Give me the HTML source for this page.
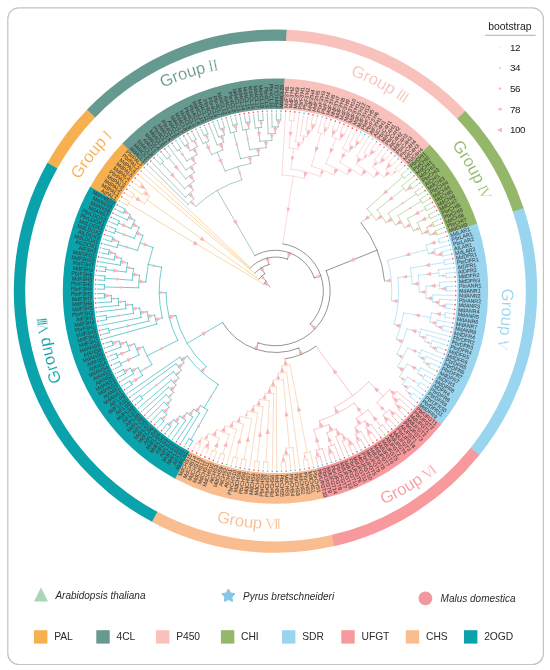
<!DOCTYPE html>
<html lang="en"><head><meta charset="utf-8"><title>Phylogenetic tree</title>
<style>html,body{margin:0;padding:0;background:#fff}svg{display:block}</style>
</head><body>
<svg width="550" height="670" viewBox="0 0 550 670">
<rect x="0" y="0" width="550" height="670" fill="#fff"/>
<rect x="7.8" y="7.9" width="535.6" height="656.6" rx="11" ry="11" fill="#fff" stroke="#c3c3c3" stroke-width="1.2"/>
<path d="M47.17 163.23A261.7 261.7 0 0 1 87.39 109.16L95.58 117.09A250.3 250.3 0 0 0 57.11 168.8Z" fill="#f7b050"/>
<path d="M89.92 187.17A212.7 212.7 0 0 1 122.61 143.23L144.68 164.57A182 182 0 0 0 116.71 202.17Z" fill="#f7b050"/>
<path d="M87.07 109.49A261.7 261.7 0 0 1 287.07 29.66L286.56 41.04A250.3 250.3 0 0 0 95.28 117.4Z" fill="#66998f"/>
<path d="M122.35 143.5A212.7 212.7 0 0 1 284.9 78.61L283.55 109.28A182 182 0 0 0 144.46 164.8Z" fill="#66998f"/>
<path d="M286.61 29.64A261.7 261.7 0 0 1 465.69 111.34L457.41 119.17A250.3 250.3 0 0 0 286.13 41.03Z" fill="#f8c1bb"/>
<path d="M284.53 78.59A212.7 212.7 0 0 1 430.08 145L407.77 166.09A182 182 0 0 0 283.23 109.26Z" fill="#f8c1bb"/>
<path d="M465.38 111.01A261.7 261.7 0 0 1 523.81 208.47L513 212.07A250.3 250.3 0 0 0 457.11 118.85Z" fill="#95b769"/>
<path d="M429.83 144.73A212.7 212.7 0 0 1 477.32 223.94L448.19 233.64A182 182 0 0 0 407.55 165.85Z" fill="#95b769"/>
<path d="M523.67 208.04A261.7 261.7 0 0 1 479.16 455.44L470.29 448.28A250.3 250.3 0 0 0 512.86 211.66Z" fill="#99d5ef"/>
<path d="M477.2 223.59A212.7 212.7 0 0 1 441.03 424.67L417.14 405.39A182 182 0 0 0 448.09 233.34Z" fill="#99d5ef"/>
<path d="M479.45 455.09A261.7 261.7 0 0 1 333.9 546.2L331.36 535.09A250.3 250.3 0 0 0 470.57 447.94Z" fill="#f8999e"/>
<path d="M441.26 424.38A212.7 212.7 0 0 1 322.97 498.44L316.12 468.51A182 182 0 0 0 417.34 405.14Z" fill="#f8999e"/>
<path d="M334.35 546.1A261.7 261.7 0 0 1 151.64 521.63L157.04 511.59A250.3 250.3 0 0 0 331.78 534.99Z" fill="#f9bd8f"/>
<path d="M323.33 498.35A212.7 212.7 0 0 1 174.83 478.47L189.36 451.43A182 182 0 0 0 316.43 468.44Z" fill="#f9bd8f"/>
<path d="M152.04 521.85A261.7 261.7 0 0 1 47.39 162.83L57.33 168.42A250.3 250.3 0 0 0 157.42 511.8Z" fill="#0ba3ab"/>
<path d="M175.16 478.64A212.7 212.7 0 0 1 90.1 186.85L116.86 201.89A182 182 0 0 0 189.64 451.58Z" fill="#0ba3ab"/>
<defs>
<path id="gpI" d="M51.1 304.43A224.8 224.8 0 0 1 223.4 72.42"/>
<path id="gpII" d="M72.64 181.87A230.4 230.4 0 0 1 347.84 72.35"/>
<path id="gpIII" d="M222.66 69.31A228 228 0 0 1 484.75 200.55"/>
<path id="gpIV" d="M346.49 75.17A227.3 227.3 0 0 1 500.48 323.52"/>
<path id="gpV" d="M466.3 167.19A227.5 227.5 0 0 1 430.65 457.48"/>
<path id="gpVI" d="M251.37 530.69A240.8 240.8 0 0 0 507.26 356.46"/>
<path id="gpVII" d="M102.01 454.02A238 238 0 0 0 405.82 490.25"/>
<path id="gpVIII" d="M143 480.32A231 231 0 0 1 66.14 193.48"/>
</defs>
<g font-family="'Liberation Sans', Arial, sans-serif" font-size="16.6" text-anchor="middle" stroke="#fff" stroke-width="0.12">
<text fill="#f7b050" transform="rotate(1.5 90.21 153.49)"><textPath href="#gpI" startOffset="50%">Group <tspan font-family="'Liberation Serif', serif" font-size="16.6" letter-spacing="0" dx="-1.4" stroke-width="0.35">I</tspan></textPath></text>
<text fill="#66998f" transform="rotate(4 188.09 71.45)"><textPath href="#gpII" startOffset="50%">Group <tspan font-family="'Liberation Serif', serif" font-size="16.6" letter-spacing="-1" dx="-1.4" stroke-width="0.35">II</tspan></textPath></text>
<text fill="#f8c1bb" transform="rotate(1 380.28 81.87)"><textPath href="#gpIII" startOffset="50%">Group <tspan font-family="'Liberation Serif', serif" font-size="16.6" letter-spacing="-2.1" dx="-1.4" stroke-width="0.35">III</tspan></textPath></text>
<text fill="#95b769" transform="rotate(2.5 473.78 168.16)"><textPath href="#gpIV" startOffset="50%">Group <tspan font-family="'Liberation Serif', serif" font-size="15.6" letter-spacing="-2.2" dx="-1.4" stroke-width="0.35">IV</tspan></textPath></text>
<text fill="#99d5ef" transform="rotate(-2.5 507.26 319.56)"><textPath href="#gpV" startOffset="50%">Group <tspan font-family="'Liberation Serif', serif" font-size="15.6" letter-spacing="0" dx="-1.4" stroke-width="0.35">V</tspan></textPath></text>
<text fill="#f8999e" transform="rotate(3.5 407.65 485.18)"><textPath href="#gpVI" startOffset="50%">Group <tspan font-family="'Liberation Serif', serif" font-size="15.6" letter-spacing="-2.2" dx="-1.4" stroke-width="0.35">VI</tspan></textPath></text>
<text fill="#f9bd8f" transform="rotate(0 248.03 521.47)"><textPath href="#gpVII" startOffset="50%">Group <tspan font-family="'Liberation Serif', serif" font-size="15.6" letter-spacing="-2.6" dx="-1.4" stroke-width="0.35">VII</tspan></textPath></text>
<text fill="#0ba3ab" transform="rotate(1.5 46.58 352.44)"><textPath href="#gpVIII" startOffset="50%">Group <tspan font-family="'Liberation Serif', serif" font-size="15.6" letter-spacing="-3.3" dx="-1.4" stroke-width="0.35">VIII</tspan></textPath></text>
</g>
<g fill="none" stroke-width="0.65" stroke-linecap="square">
<path stroke="#5a5a5a" d="M270.04 286.72L264.9 282.58M263.81 284.14A13.6 13.6 0 0 1 266.19 281.19M266.19 281.19L261.5 276.19M258.82 279.26A20.45 20.45 0 0 1 264.73 273.71M264.73 273.71L261.12 267.89M254.69 273.44A27.3 27.3 0 0 1 268.96 264.6M268.96 264.6L267.32 257.95M250.04 268.34A34.15 34.15 0 0 1 287.45 259.11M287.45 259.11L289.84 252.69M254.94 255.63A41 41 0 0 1 314.28 277.78M314.28 277.78L320.75 275.55M282.78 243.81A47.85 47.85 0 0 1 310.3 323.94M310.3 323.94L315.29 328.64M326.23 270.65A54.7 54.7 0 0 1 258.03 342.93M326.23 270.65L377.06 250.16M361.09 222.8A109.5 109.5 0 0 1 384.53 280.95M258.03 342.93L255.84 349.43M298.7 348.11A61.55 61.55 0 0 1 222.52 322.44M298.7 348.11L301.28 354.46M316.02 346.21A68.4 68.4 0 0 1 284.96 358.84"/>
<path stroke="#f8c577" d="M263.81 284.14L128.44 203.54M127.33 205.44A171.15 171.15 0 0 1 129.58 201.66M127.33 205.44L121.4 202.01M129.58 201.66L123.74 198.08M258.82 279.26L147.1 199.98M144.52 203.72A157.45 157.45 0 0 1 149.78 196.31M144.52 203.72L133.12 196.12M131.92 197.95A171.15 171.15 0 0 1 134.35 194.3M131.92 197.95L126.17 194.22M134.35 194.3L128.71 190.43M149.78 196.31L144.31 192.19M142.43 194.73A164.3 164.3 0 0 1 146.24 189.68M142.43 194.73L131.33 186.69M146.24 189.68L140.85 185.46M139.5 187.19A171.15 171.15 0 0 1 142.21 183.74M139.5 187.19L134.06 183.03M142.21 183.74L136.88 179.44M254.69 273.44L139.79 175.92M250.04 268.34L142.78 172.48M250.63 267.7L145.87 169.12"/>
<path stroke="#7cafa5" d="M254.94 255.63L217.17 190.43M195.64 206.48A116.35 116.35 0 0 1 241.8 179.74M195.64 206.48L190.94 201.5M187.97 204.4A123.2 123.2 0 0 1 194 198.71M187.97 204.4L149.04 165.83M194 198.71L189.47 193.57M185.48 197.24A130.05 130.05 0 0 1 193.61 190.07M185.48 197.24L152.29 162.63M193.61 190.07L189.3 184.75M184.61 188.72A136.9 136.9 0 0 1 194.16 180.99M184.61 188.72L161.87 163.11M160.24 164.58A171.15 171.15 0 0 1 163.52 161.66M160.24 164.58L155.63 159.51M163.52 161.66L159.04 156.48M194.16 180.99L190.08 175.48M185.7 178.85A143.75 143.75 0 0 1 194.59 172.28M185.7 178.85L168.58 157.45M166.88 158.84A171.15 171.15 0 0 1 170.31 156.09M166.88 158.84L162.53 153.54M170.31 156.09L166.1 150.69M194.59 172.28L190.74 166.62M186.01 169.97A150.6 150.6 0 0 1 195.59 163.45M186.01 169.97L169.73 147.93M195.59 163.45L191.95 157.64M186.88 160.96A157.45 157.45 0 0 1 197.15 154.53M186.88 160.96L179.17 149.63M177.37 150.88A171.15 171.15 0 0 1 181 148.41M177.37 150.88L173.44 145.27M181 148.41L177.21 142.7M197.15 154.53L193.74 148.59M190.11 150.73A164.3 164.3 0 0 1 197.42 146.54M190.11 150.73L186.55 144.88M184.69 146.03A171.15 171.15 0 0 1 188.44 143.75M184.69 146.03L181.05 140.22M188.44 143.75L184.95 137.85M197.42 146.54L194.17 140.51M192.24 141.57A171.15 171.15 0 0 1 196.1 139.48M192.24 141.57L188.91 135.58M196.1 139.48L192.93 133.41M241.8 179.74L237.83 166.62M225.16 171.19A130.05 130.05 0 0 1 250.9 163.4M225.16 171.19L217.21 152.24M211.69 154.68A150.6 150.6 0 0 1 222.82 150.01M211.69 154.68L205.89 142.28M203.04 143.64A164.3 164.3 0 0 1 208.76 140.96M203.04 143.64L197 131.35M208.76 140.96L205.98 134.7M203.98 135.61A171.15 171.15 0 0 1 207.99 133.83M203.98 135.61L201.12 129.39M207.99 133.83L205.29 127.53M222.82 150.01L220.42 143.6M217.13 144.87A157.45 157.45 0 0 1 223.75 142.4M217.13 144.87L209.51 125.78M223.75 142.4L221.49 135.93M218.52 137A164.3 164.3 0 0 1 224.49 134.92M218.52 137L213.77 124.15M224.49 134.92L222.36 128.41M220.28 129.1A171.15 171.15 0 0 1 224.45 127.74M220.28 129.1L218.07 122.62M224.45 127.74L222.41 121.2M250.9 163.4L249.61 156.67M240.57 158.73A136.9 136.9 0 0 1 258.77 155.23M240.57 158.73L233.58 132.24M230.53 133.07A164.3 164.3 0 0 1 236.64 131.46M230.53 133.07L226.78 119.9M236.64 131.46L235.02 124.8M232.9 125.34A171.15 171.15 0 0 1 237.16 124.3M232.9 125.34L231.19 118.7M237.16 124.3L235.63 117.62M258.77 155.23L257.93 148.43M249.62 149.7A143.75 143.75 0 0 1 266.3 147.64M249.62 149.7L245.92 129.49M242.81 130.08A164.3 164.3 0 0 1 249.03 128.95M242.81 130.08L240.09 116.66M249.03 128.95L247.93 122.19M245.76 122.55A171.15 171.15 0 0 1 250.09 121.85M245.76 122.55L244.57 115.81M250.09 121.85L249.08 115.07M266.3 147.64L265.86 140.81M259.85 141.32A150.6 150.6 0 0 1 271.89 140.54M259.85 141.32L258.42 127.69M255.29 128.05A164.3 164.3 0 0 1 261.57 127.39M255.29 128.05L253.6 114.45M261.57 127.39L260.99 120.57M258.8 120.77A171.15 171.15 0 0 1 263.18 120.39M258.8 120.77L258.14 113.95M263.18 120.39L262.68 113.56M271.89 140.54L271.73 133.7M268.2 133.82A157.45 157.45 0 0 1 275.26 133.65M268.2 133.82L267.24 113.29M275.26 133.65L275.25 126.8M272.09 126.84A164.3 164.3 0 0 1 278.41 126.83M272.09 126.84L271.8 113.14M278.41 126.83L278.53 119.98M276.34 119.95A171.15 171.15 0 0 1 280.72 120.03M276.34 119.95L276.37 113.1M280.72 120.03L280.93 113.18"/>
<path stroke="#f9c7c2" d="M282.78 243.81L293.19 176.1M282.03 174.93A116.35 116.35 0 0 1 304.19 178.34M282.03 174.93L285.49 113.38M304.19 178.34L305.87 171.7M290.97 168.88A123.2 123.2 0 0 1 320.32 176.34M290.97 168.88L293.55 148.49M289.08 147.99A143.75 143.75 0 0 1 298 149.12M289.08 147.99L291.67 120.72M289.49 120.52A171.15 171.15 0 0 1 293.86 120.94M289.49 120.52L290.05 113.7M293.86 120.94L294.59 114.13M298 149.12L299.07 142.36M295.49 141.83A150.6 150.6 0 0 1 302.64 142.97M295.49 141.83L299.12 114.67M302.64 142.97L303.87 136.23M300.39 135.63A157.45 157.45 0 0 1 307.34 136.9M300.39 135.63L303.64 115.34M307.34 136.9L308.73 130.19M305.63 129.59A164.3 164.3 0 0 1 311.81 130.86M305.63 129.59L308.14 116.12M311.81 130.86L313.33 124.18M311.19 123.71A171.15 171.15 0 0 1 315.47 124.68M311.19 123.71L312.61 117.01M315.47 124.68L317.07 118.02M320.32 176.34L322.81 169.96M311.51 166.14A130.05 130.05 0 0 1 333.71 174.81M311.51 166.14L321 133.22M317.95 132.38A164.3 164.3 0 0 1 324.02 134.13M317.95 132.38L321.49 119.14M324.02 134.13L326.05 127.58M323.95 126.95A171.15 171.15 0 0 1 328.14 128.25M323.95 126.95L325.88 120.38M328.14 128.25L330.25 121.73M333.71 174.81L336.78 168.68M325.86 163.8A136.9 136.9 0 0 1 347.23 174.49M325.86 163.8L335.94 138.32M332.01 136.82A164.3 164.3 0 0 1 339.84 139.92M332.01 136.82L334.36 130.39M332.3 129.65A171.15 171.15 0 0 1 336.42 131.16M332.3 129.65L334.57 123.19M336.42 131.16L338.86 124.76M339.84 139.92L342.53 133.62M340.5 132.77A171.15 171.15 0 0 1 344.54 134.49M340.5 132.77L343.1 126.44M344.54 134.49L347.3 128.22M347.23 174.49L350.81 168.66M339.74 162.5A143.75 143.75 0 0 1 361.3 175.77M339.74 162.5L345.86 150.25M342.69 148.7A157.45 157.45 0 0 1 349.01 151.86M342.69 148.7L351.46 130.12M349.01 151.86L352.2 145.8M349.4 144.36A164.3 164.3 0 0 1 354.99 147.31M349.4 144.36L355.56 132.12M354.99 147.31L358.3 141.31M356.37 140.26A171.15 171.15 0 0 1 360.21 142.39M356.37 140.26L359.61 134.22M360.21 142.39L363.6 136.43M361.3 175.77L365.39 170.27M356.25 163.98A150.6 150.6 0 0 1 374.05 177.22M356.25 163.98L359.92 158.19M356.91 156.33A157.45 157.45 0 0 1 362.88 160.12M356.91 156.33L367.54 138.74M362.88 160.12L366.68 154.42M364.03 152.69A164.3 164.3 0 0 1 369.29 156.2M364.03 152.69L371.42 141.15M369.29 156.2L373.2 150.58M371.39 149.34A171.15 171.15 0 0 1 375 151.84M371.39 149.34L375.23 143.66M375 151.84L378.98 146.27M374.05 177.22L378.53 172.04M372.69 167.22A157.45 157.45 0 0 1 384.13 177.13M372.69 167.22L376.92 161.84M374.41 159.91A164.3 164.3 0 0 1 379.38 163.81M374.41 159.91L382.66 148.97M379.38 163.81L383.71 158.5M382.01 157.13A171.15 171.15 0 0 1 385.41 159.9M382.01 157.13L386.27 151.76M385.41 159.9L389.8 154.65M384.13 177.13L388.86 172.17M385.77 169.3A164.3 164.3 0 0 1 391.87 175.12M385.77 169.3L390.37 164.23M388.73 162.76A171.15 171.15 0 0 1 391.99 165.71M388.73 162.76L393.27 157.63M391.99 165.71L396.65 160.69M391.87 175.12L396.72 170.28M395.16 168.74A171.15 171.15 0 0 1 398.26 171.85M395.16 168.74L399.95 163.84M398.26 171.85L403.18 167.07"/>
<path stroke="#a6c783" d="M361.09 222.8L371.8 214.25M367.11 208.72A123.2 123.2 0 0 1 376.15 220.06M367.11 208.72L402.76 176.66M401.28 175.03A171.15 171.15 0 0 1 404.22 178.3M401.28 175.03L406.31 170.39M404.22 178.3L409.37 173.78M376.15 220.06L381.75 216.11M377.05 209.86A130.05 130.05 0 0 1 386.06 222.62M377.05 209.86L403.8 188.46M401.8 186.02A164.3 164.3 0 0 1 405.75 190.95M401.8 186.02L412.33 177.25M405.75 190.95L411.18 186.78M409.83 185.04A171.15 171.15 0 0 1 412.5 188.52M409.83 185.04L415.21 180.8M412.5 188.52L417.99 184.42M386.06 222.62L391.89 219.02M388.16 213.33A136.9 136.9 0 0 1 395.32 224.89M388.16 213.33L416.35 193.87M415.09 192.07A171.15 171.15 0 0 1 417.58 195.68M415.09 192.07L420.68 188.11M417.58 195.68L423.27 191.86M395.32 224.89L401.32 221.57M397.83 215.61A143.75 143.75 0 0 1 404.51 227.7M397.83 215.61L421.15 201.22M419.98 199.36A171.15 171.15 0 0 1 422.29 203.09M419.98 199.36L425.77 195.69M422.29 203.09L428.16 199.57M404.51 227.7L410.66 224.68M407.55 218.68A150.6 150.6 0 0 1 413.51 230.81M407.55 218.68L425.56 208.8M424.5 206.89A171.15 171.15 0 0 1 426.61 210.73M424.5 206.89L430.46 203.51M426.61 210.73L432.66 207.52M413.51 230.81L419.78 228.07M417.25 222.57A157.45 157.45 0 0 1 422.1 233.67M417.25 222.57L429.59 216.6M428.62 214.64A171.15 171.15 0 0 1 430.53 218.59M428.62 214.64L434.75 211.57M430.53 218.59L436.73 215.68M422.1 233.67L428.48 231.17M426.89 227.26A164.3 164.3 0 0 1 429.97 235.11M426.89 227.26L433.2 224.6M432.34 222.59A171.15 171.15 0 0 1 434.04 226.63M432.34 222.59L438.62 219.84M434.04 226.63L440.39 224.05M429.97 235.11L436.41 232.78M435.64 230.72A171.15 171.15 0 0 1 437.14 234.84M435.64 230.72L442.05 228.3M437.14 234.84L443.61 232.59"/>
<path stroke="#9fd8f0" d="M384.53 280.95L391.35 280.31M387.71 260.33A116.35 116.35 0 0 1 391.46 300.62M387.71 260.33L427.35 249.47M426.08 245.1A157.45 157.45 0 0 1 428.48 253.86M426.08 245.1L439.18 241.1M438.53 239.01A171.15 171.15 0 0 1 439.81 243.2M438.53 239.01L445.05 236.92M439.81 243.2L446.39 241.29M428.48 253.86L435.14 252.24M434.36 249.18A164.3 164.3 0 0 1 435.86 255.32M434.36 249.18L447.61 245.69M435.86 255.32L442.54 253.83M442.05 251.69A171.15 171.15 0 0 1 443.01 255.98M442.05 251.69L448.72 250.11M443.01 255.98L449.71 254.57M391.46 300.62L398.29 301.18M397.95 277.56A123.2 123.2 0 0 1 394.11 324.43M397.95 277.56L411.57 276.05M410.47 268.18A136.9 136.9 0 0 1 412.21 283.98M410.47 268.18L444.23 262.44M443.85 260.28A171.15 171.15 0 0 1 444.59 264.61M443.85 260.28L450.59 259.05M444.59 264.61L451.35 263.55M412.21 283.98L419.06 283.63M418.37 275.24A143.75 143.75 0 0 1 419.25 292.03M418.37 275.24L438.8 272.98M438.42 269.84A164.3 164.3 0 0 1 439.12 276.12M438.42 269.84L452 268.07M439.12 276.12L445.94 275.5M445.72 273.31A171.15 171.15 0 0 1 446.12 277.68M445.72 273.31L452.54 272.6M446.12 277.68L452.95 277.15M419.25 292.03L426.1 292.08M426.02 286.04A150.6 150.6 0 0 1 425.94 298.11M426.02 286.04L439.71 285.58M439.57 282.43A164.3 164.3 0 0 1 439.78 288.74M439.57 282.43L453.25 281.7M439.78 288.74L446.63 288.64M446.59 286.45A171.15 171.15 0 0 1 446.65 290.84M446.59 286.45L453.43 286.26M446.65 290.84L453.5 290.83M425.94 298.11L432.78 298.43M432.9 294.9A157.45 157.45 0 0 1 432.58 301.95M432.9 294.9L453.45 295.39M432.58 301.95L439.41 302.43M439.6 299.27A164.3 164.3 0 0 1 439.16 305.58M439.6 299.27L453.28 299.95M439.16 305.58L445.98 306.18M446.16 303.99A171.15 171.15 0 0 1 445.78 308.37M446.16 303.99L452.99 304.51M445.78 308.37L452.59 309.06M394.11 324.43L400.7 326.28M403.71 312.89A130.05 130.05 0 0 1 396.29 339.28M403.71 312.89L430.72 317.48M431.42 313A157.45 157.45 0 0 1 429.9 321.95M431.42 313L444.99 314.9M445.28 312.73A171.15 171.15 0 0 1 444.67 317.07M445.28 312.73L452.07 313.59M444.67 317.07L451.44 318.11M429.9 321.95L436.61 323.29M437.2 320.19A164.3 164.3 0 0 1 435.97 326.39M437.2 320.19L450.69 322.61M435.97 326.39L442.66 327.86M443.11 325.71A171.15 171.15 0 0 1 442.17 330M443.11 325.71L449.82 327.1M442.17 330L448.84 331.56M396.29 339.28L402.66 341.82M407.11 328.8A136.9 136.9 0 0 1 396.92 354.33M407.11 328.8L420.28 332.57M421.23 329.08A150.6 150.6 0 0 1 419.24 336.04M421.23 329.08L447.75 335.99M419.24 336.04L425.78 338.08M426.79 334.7A157.45 157.45 0 0 1 424.68 341.44M426.79 334.7L446.54 340.39M424.68 341.44L431.18 343.63M432.16 340.63A164.3 164.3 0 0 1 430.14 346.62M432.16 340.63L445.22 344.76M430.14 346.62L436.58 348.93M437.31 346.86A171.15 171.15 0 0 1 435.83 350.99M437.31 346.86L443.79 349.09M435.83 350.99L442.25 353.39M396.92 354.33L403 357.5M407.59 347.82A143.75 143.75 0 0 1 397.7 366.81M407.59 347.82L420.18 353.22M421.53 349.96A157.45 157.45 0 0 1 418.75 356.45M421.53 349.96L440.59 357.64M418.75 356.45L424.98 359.3M426.26 356.41A164.3 164.3 0 0 1 423.64 362.16M426.26 356.41L438.83 361.86M423.64 362.16L429.81 365.12M430.75 363.14A171.15 171.15 0 0 1 428.85 367.1M430.75 363.14L436.96 366.02M428.85 367.1L434.99 370.14M397.7 366.81L403.52 370.41M407.3 363.96A150.6 150.6 0 0 1 399.42 376.67M407.3 363.96L419.29 370.59M420.8 367.8A164.3 164.3 0 0 1 417.74 373.34M420.8 367.8L432.91 374.2M417.74 373.34L423.67 376.76M424.75 374.86A171.15 171.15 0 0 1 422.56 378.66M424.75 374.86L430.73 378.21M422.56 378.66L428.44 382.16M399.42 376.67L405.06 380.57M407.59 376.79A157.45 157.45 0 0 1 402.43 384.27M407.59 376.79L419.08 384.25M420.26 382.4A171.15 171.15 0 0 1 417.88 386.08M420.26 382.4L426.06 386.05M417.88 386.08L423.57 389.88M402.43 384.27L407.95 388.32M409.79 385.76A164.3 164.3 0 0 1 406.05 390.85M409.79 385.76L420.99 393.65M406.05 390.85L411.5 395.01M412.82 393.26A171.15 171.15 0 0 1 410.15 396.74M412.82 393.26L418.31 397.35M410.15 396.74L415.54 400.97"/>
<path stroke="#f8a7a9" d="M316.02 346.21L352.54 395.87M368.62 381.88A130.05 130.05 0 0 1 334.39 407.05M368.62 381.88L383.34 396.22M389.38 389.65A150.6 150.6 0 0 1 376.92 402.43M389.38 389.65L394.56 394.13M396.84 391.43A157.45 157.45 0 0 1 392.22 396.78M396.84 391.43L412.68 404.53M392.22 396.78L397.3 401.37M399.4 399.01A164.3 164.3 0 0 1 395.15 403.69M399.4 399.01L409.73 408.01M395.15 403.69L400.14 408.39M401.64 406.78A171.15 171.15 0 0 1 398.63 409.98M401.64 406.78L406.68 411.41M398.63 409.98L403.56 414.74M376.92 402.43L386.15 412.56M389.22 409.68A164.3 164.3 0 0 1 382.99 415.36M389.22 409.68L393.96 414.63M395.54 413.1A171.15 171.15 0 0 1 392.37 416.13M395.54 413.1L400.34 417.98M392.37 416.13L397.05 421.14M382.99 415.36L387.48 420.54M389.13 419.09A171.15 171.15 0 0 1 385.81 421.96M389.13 419.09L393.67 424.21M385.81 421.96L390.22 427.2M334.39 407.05L337.5 413.16M354.35 403.01A136.9 136.9 0 0 1 319.36 420.78M354.35 403.01L362.24 414.21M368.06 409.9A150.6 150.6 0 0 1 356.23 418.24M368.06 409.9L380.69 426.11M382.42 424.75A171.15 171.15 0 0 1 378.95 427.44M382.42 424.75L386.69 430.1M378.95 427.44L383.09 432.9M356.23 418.24L359.9 424.02M364.95 420.67A157.45 157.45 0 0 1 354.72 427.17M364.95 420.67L368.84 426.31M371.42 424.49A164.3 164.3 0 0 1 366.22 428.08M371.42 424.49L379.42 435.61M366.22 428.08L370 433.79M371.83 432.57A171.15 171.15 0 0 1 368.17 434.99M371.83 432.57L375.68 438.23M368.17 434.99L371.88 440.75M354.72 427.17L358.17 433.09M360.89 431.47A164.3 164.3 0 0 1 355.43 434.65M360.89 431.47L368.01 443.17M355.43 434.65L358.76 440.63M360.67 439.55A171.15 171.15 0 0 1 356.83 441.69M360.67 439.55L364.08 445.5M356.83 441.69L360.09 447.72M319.36 420.78L321.55 427.27M329.01 424.52A143.75 143.75 0 0 1 313.95 429.61M329.01 424.52L331.56 430.88M336.23 428.91A150.6 150.6 0 0 1 326.82 432.69M336.23 428.91L338.99 435.18M342.21 433.72A157.45 157.45 0 0 1 335.74 436.57M342.21 433.72L345.11 439.92M347.96 438.56A164.3 164.3 0 0 1 342.24 441.24M347.96 438.56L350.98 444.71M352.95 443.73A171.15 171.15 0 0 1 349.01 445.66M352.95 443.73L356.04 449.83M349.01 445.66L351.95 451.85M342.24 441.24L347.8 453.75M335.74 436.57L343.61 455.56M326.82 432.69L331.49 445.57M334.45 444.46A164.3 164.3 0 0 1 328.51 446.61M334.45 444.46L339.37 457.25M328.51 446.61L330.72 453.1M332.79 452.38A171.15 171.15 0 0 1 328.64 453.79M332.79 452.38L335.08 458.83M328.64 453.79L330.76 460.3M313.95 429.61L319.45 449.41M322.49 448.54A164.3 164.3 0 0 1 316.4 450.23M322.49 448.54L326.41 461.67M316.4 450.23L318.1 456.86M320.23 456.3A171.15 171.15 0 0 1 315.98 457.4M320.23 456.3L322.02 462.91M315.98 457.4L317.6 464.05"/>
<path stroke="#f9c8a0" d="M284.96 358.84L285.91 365.63M290 364.94A75.25 75.25 0 0 1 281.79 366.09M290 364.94L307.15 452.32M310.25 451.68A164.3 164.3 0 0 1 304.05 452.9M310.25 451.68L313.15 465.07M304.05 452.9L305.24 459.65M307.4 459.25A171.15 171.15 0 0 1 303.07 460.01M307.4 459.25L308.67 465.98M303.07 460.01L304.18 466.77M281.79 366.09L282.36 372.91M286.65 372.44A82.1 82.1 0 0 1 278.05 373.16M286.65 372.44L299.66 467.45M278.05 373.16L278.26 380.01M283.33 379.71A88.95 88.95 0 0 1 273.19 380.02M283.33 379.71L289.35 447.94M292.87 447.59A157.45 157.45 0 0 1 285.83 448.21M292.87 447.59L295.13 468.01M285.83 448.21L286.28 455.05M289.43 454.81A164.3 164.3 0 0 1 283.12 455.22M289.43 454.81L290.59 468.46M283.12 455.22L283.44 462.07M285.63 461.95A171.15 171.15 0 0 1 281.25 462.15M285.63 461.95L286.04 468.79M281.25 462.15L281.48 469M273.19 380.02L273.02 386.87M276.26 386.9A95.8 95.8 0 0 1 269.77 386.73M276.26 386.9L276.91 469.09M269.77 386.73L269.36 393.57M273.68 393.73A102.65 102.65 0 0 1 265.05 393.22M273.68 393.73L272.35 469.07M265.05 393.22L264.36 400.03M269.35 400.43A109.5 109.5 0 0 1 259.38 399.41M269.35 400.43L265.89 461.98M268.08 462.09A171.15 171.15 0 0 1 263.7 461.84M268.08 462.09L267.79 468.93M263.7 461.84L263.23 468.68M259.38 399.41L258.37 406.18M263.02 406.78A116.35 116.35 0 0 1 253.75 405.4M263.02 406.78L257.14 461.26M259.33 461.48A171.15 171.15 0 0 1 254.96 461.01M259.33 461.48L258.68 468.3M254.96 461.01L254.14 467.81M253.75 405.4L252.47 412.13M257.59 412.99A123.2 123.2 0 0 1 247.4 411.05M257.59 412.99L249.62 467.21M247.4 411.05L245.84 417.72M251.65 418.95A130.05 130.05 0 0 1 240.09 416.24M251.65 418.95L244.12 459.35M246.28 459.74A171.15 171.15 0 0 1 241.96 458.93M246.28 459.74L245.11 466.49M241.96 458.93L240.62 465.65M240.09 416.24L238.22 422.83M243.53 424.22A136.9 136.9 0 0 1 232.98 421.23M243.53 424.22L235.53 457.52M237.67 458.02A171.15 171.15 0 0 1 233.4 456.99M237.67 458.02L236.16 464.7M233.4 456.99L231.72 463.63M232.98 421.23L230.85 427.74M236.58 429.48A143.75 143.75 0 0 1 225.2 425.76M236.58 429.48L227.31 462.45M225.2 425.76L222.8 432.18M229.18 434.4A150.6 150.6 0 0 1 216.52 429.67M229.18 434.4L222.86 453.95M224.95 454.62A171.15 171.15 0 0 1 220.78 453.27M224.95 454.62L222.93 461.16M220.78 453.27L218.59 459.76M216.52 429.67L213.84 435.97M219.46 438.24A157.45 157.45 0 0 1 208.31 433.5M219.46 438.24L214.58 451.04M216.64 451.81A171.15 171.15 0 0 1 212.54 450.25M216.64 451.81L214.28 458.24M212.54 450.25L210.02 456.62M208.31 433.5L205.39 439.69M209.22 441.44A164.3 164.3 0 0 1 201.6 437.84M209.22 441.44L206.46 447.71M208.47 448.58A171.15 171.15 0 0 1 204.46 446.81M208.47 448.58L205.79 454.88M204.46 446.81L201.62 453.04M201.6 437.84L198.52 443.96M200.49 444.94A171.15 171.15 0 0 1 196.57 442.96M200.49 444.94L197.49 451.09M196.57 442.96L193.41 449.04"/>
<path stroke="#23b2bb" d="M222.52 322.44L187.15 343.36M206.07 366.71A102.65 102.65 0 0 1 175.8 315.53M206.07 366.71L201.44 371.75M218.32 384.48A109.5 109.5 0 0 1 187.32 356.02M218.32 384.48L204.01 407.85M207.74 410.05A136.9 136.9 0 0 1 200.35 405.53M207.74 410.05L190.79 439.81M192.7 440.89A171.15 171.15 0 0 1 188.89 438.72M192.7 440.89L189.39 446.88M188.89 438.72L185.42 444.62M200.35 405.53L196.59 411.25M199.6 413.18A143.75 143.75 0 0 1 193.63 409.26M199.6 413.18L181.51 442.26M193.63 409.26L189.73 414.89M192.73 416.91A150.6 150.6 0 0 1 186.78 412.79M192.73 416.91L177.67 439.8M186.78 412.79L182.74 418.32M185.62 420.37A157.45 157.45 0 0 1 179.91 416.21M185.62 420.37L173.89 437.25M179.91 416.21L175.75 421.65M178.28 423.55A164.3 164.3 0 0 1 173.26 419.71M178.28 423.55L170.17 434.59M173.26 419.71L168.99 425.07M170.72 426.43A171.15 171.15 0 0 1 167.29 423.7M170.72 426.43L166.53 431.84M167.29 423.7L162.95 429M187.32 356.02L181.8 360.08M183.94 362.9A116.35 116.35 0 0 1 179.75 357.2M183.94 362.9L178.55 367.12M181.29 370.48A123.2 123.2 0 0 1 175.94 363.67M181.29 370.48L176.05 374.9M178.77 378.02A130.05 130.05 0 0 1 173.43 371.69M178.77 378.02L173.67 382.6M176.01 385.14A136.9 136.9 0 0 1 171.39 380M176.01 385.14L171.04 389.85M173.52 392.41A143.75 143.75 0 0 1 168.61 387.22M173.52 392.41L168.66 397.24M171.24 399.78A150.6 150.6 0 0 1 166.14 394.64M171.24 399.78L166.5 404.72M169.08 407.14A157.45 157.45 0 0 1 163.98 402.25M169.08 407.14L164.45 412.19M166.8 414.3A164.3 164.3 0 0 1 162.14 410.03M166.8 414.3L162.27 419.44M163.92 420.88A171.15 171.15 0 0 1 160.63 417.97M163.92 420.88L159.46 426.07M160.63 417.97L156.03 423.05M162.14 410.03L152.69 419.95M163.98 402.25L149.42 416.75M166.14 394.64L146.24 413.48M168.61 387.22L143.15 410.13M171.39 380L140.14 406.69M173.43 371.69L141.17 397.16M142.54 398.87A171.15 171.15 0 0 1 139.82 395.42M142.54 398.87L137.22 403.18M139.82 395.42L134.39 399.6M175.94 363.67L131.66 395.95M179.75 357.2L129.01 392.22M175.8 315.53L169.15 317.16M177.73 340.41A109.5 109.5 0 0 1 166.01 292.58M177.73 340.41L147.15 355.84M151.97 364.62A143.75 143.75 0 0 1 142.95 346.74M151.97 364.62L140.2 371.63M142.58 375.5A157.45 157.45 0 0 1 137.94 367.69M142.58 375.5L131.02 382.84M132.2 384.69A171.15 171.15 0 0 1 129.85 380.98M132.2 384.69L126.47 388.43M129.85 380.98L124.02 384.58M137.94 367.69L131.95 371.03M133.51 373.77A164.3 164.3 0 0 1 130.44 368.25M133.51 373.77L121.68 380.66M130.44 368.25L124.39 371.47M125.44 373.4A171.15 171.15 0 0 1 123.37 369.52M125.44 373.4L119.43 376.69M123.37 369.52L117.29 372.66M142.95 346.74L136.64 349.39M139.08 354.91A150.6 150.6 0 0 1 134.41 343.78M139.08 354.91L120.47 363.61M121.41 365.6A171.15 171.15 0 0 1 119.55 361.62M121.41 365.6L115.25 368.58M119.55 361.62L113.31 364.44M134.41 343.78L128 346.18M129.65 350.41A157.45 157.45 0 0 1 126.47 341.9M129.65 350.41L116.96 355.57M117.8 357.6A171.15 171.15 0 0 1 116.14 353.53M117.8 357.6L111.48 360.26M116.14 353.53L109.77 356.03M126.47 341.9L119.99 344.11M121.03 347.09A164.3 164.3 0 0 1 119 341.11M121.03 347.09L108.15 351.76M119 341.11L112.47 343.19M113.15 345.28A171.15 171.15 0 0 1 111.82 341.1M113.15 345.28L106.65 347.45M111.82 341.1L105.26 343.1M166.01 292.58L159.16 292.67M162.3 317.99A116.35 116.35 0 0 1 161.62 267.27M162.3 317.99L155.64 319.58M156.79 324.06A123.2 123.2 0 0 1 154.65 315.05M156.79 324.06L103.99 338.72M154.65 315.05L147.93 316.39M148.94 321.05A130.05 130.05 0 0 1 147.09 311.69M148.94 321.05L108.95 330.51M109.47 332.64A171.15 171.15 0 0 1 108.46 328.37M109.47 332.64L102.82 334.3M108.46 328.37L101.77 329.86M147.09 311.69L140.33 312.78M141.16 317.48A136.9 136.9 0 0 1 139.65 308.05M141.16 317.48L100.83 325.39M139.65 308.05L132.86 308.9M133.48 313.35A143.75 143.75 0 0 1 132.37 304.43M133.48 313.35L106.41 317.59M106.77 319.76A171.15 171.15 0 0 1 106.09 315.42M106.77 319.76L100.01 320.9M106.09 315.42L99.31 316.39M132.37 304.43L125.55 305.07M125.93 308.67A150.6 150.6 0 0 1 125.26 301.46M125.93 308.67L98.72 311.87M125.26 301.46L118.42 301.93M118.71 305.45A157.45 157.45 0 0 1 118.22 298.4M118.71 305.45L98.24 307.33M118.22 298.4L111.38 298.72M111.55 301.88A164.3 164.3 0 0 1 111.26 295.56M111.55 301.88L97.88 302.78M111.26 295.56L104.41 295.75M104.49 297.94A171.15 171.15 0 0 1 104.37 293.56M104.49 297.94L97.64 298.22M104.37 293.56L97.52 293.66M161.62 267.27L148.21 264.47M145.77 281.98A130.05 130.05 0 0 1 152.99 247.45M145.77 281.98L138.94 281.5M138.64 287.8A136.9 136.9 0 0 1 139.52 275.22M138.64 287.8L104.4 286.97M104.36 289.17A171.15 171.15 0 0 1 104.47 284.78M104.36 289.17L97.51 289.09M104.47 284.78L97.62 284.53M139.52 275.22L132.72 274.42M132.16 280.27A143.75 143.75 0 0 1 133.52 268.6M132.16 280.27L104.84 278.21M104.69 280.4A171.15 171.15 0 0 1 105.02 276.02M104.69 280.4L97.85 279.97M105.02 276.02L98.19 275.42M133.52 268.6L126.76 267.53M126.11 272.07A150.6 150.6 0 0 1 127.54 263.01M126.11 272.07L105.72 269.47M105.46 271.65A171.15 171.15 0 0 1 106.01 267.3M105.46 271.65L98.65 270.87M106.01 267.3L99.23 266.35M127.54 263.01L120.81 261.73M120.19 265.21A157.45 157.45 0 0 1 121.51 258.27M120.19 265.21L99.92 261.83M121.51 258.27L114.81 256.84M114.18 259.94A164.3 164.3 0 0 1 115.5 253.76M114.18 259.94L100.73 257.34M115.5 253.76L108.83 252.2M108.34 254.34A171.15 171.15 0 0 1 109.34 250.07M108.34 254.34L101.65 252.87M109.34 250.07L102.69 248.43M152.99 247.45L140.09 242.85M137.63 250.41A143.75 143.75 0 0 1 142.96 235.44M137.63 250.41L117.92 244.59M117.05 247.63A164.3 164.3 0 0 1 118.84 241.57M117.05 247.63L103.84 244.01M118.84 241.57L112.31 239.51M111.66 241.6A171.15 171.15 0 0 1 112.99 237.42M111.66 241.6L105.11 239.62M112.99 237.42L106.48 235.27M142.96 235.44L136.65 232.79M134.42 238.4A150.6 150.6 0 0 1 139.09 227.27M134.42 238.4L115.17 231.21M114.42 233.27A171.15 171.15 0 0 1 115.95 229.16M114.42 233.27L107.97 230.95M115.95 229.16L109.57 226.68M139.09 227.27L132.89 224.37M131.02 228.51A157.45 157.45 0 0 1 134.87 220.28M131.02 228.51L118.45 223.07M117.59 225.09A171.15 171.15 0 0 1 119.34 221.06M117.59 225.09L111.27 222.44M119.34 221.06L113.09 218.26M134.87 220.28L128.76 217.2M127.36 220.04A164.3 164.3 0 0 1 130.2 214.4M127.36 220.04L115.01 214.11M130.2 214.4L124.15 211.2M123.13 213.14A171.15 171.15 0 0 1 125.18 209.26M123.13 213.14L117.04 210.02M125.18 209.26L119.17 205.99"/>
</g>
<path fill="#f9b6ba" d="M269.45 286.24L266.83 281.39L264.15 284.72ZM198.41 245.2L194.99 240.57L192.71 244.4ZM265.29 280.23L263.69 275.94L261.1 278.37ZM205.03 241.09L202.12 236.41L199.65 239.89ZM141.03 201.39L137.85 196.6L135.38 200.3ZM148.95 195.69L146.34 191.21L143.92 194.42ZM145.63 189.21L142.83 184.18L140.08 187.69ZM264.32 273.06L263.43 267.38L259.64 269.72ZM268.73 263.68L269.56 258.37L265.52 259.36ZM287.73 258.34L291.61 254.22L287.5 252.69ZM237.38 225.32L236.65 219.62L232.8 221.85ZM194.59 205.37L193.15 201.52L190.83 203.71ZM193.49 198.13L191.65 192.68L188.32 195.62ZM193.12 189.47L191.51 183.95L188.06 186.75ZM174.93 177.82L173.15 172.6L169.96 175.43ZM193.67 180.33L192.33 174.84L188.81 177.44ZM178.8 170.22L177.23 164.69L173.75 167.47ZM193.92 171.28L192.96 166.56L189.88 168.66ZM195.18 162.79L194.25 157.12L190.48 159.48ZM184.1 156.86L183.28 152.83L180.64 154.62ZM196.68 153.71L196.02 148.37L192.41 150.44ZM189.58 149.85L188.81 144.72L185.37 146.81ZM196.7 145.19L196.29 141.1L193.49 142.61ZM240.27 174.69L240.63 171.29L238.09 172.06ZM222.21 164.16L222.21 158.41L218.11 160.13ZM209.91 150.88L209.68 145.14L205.65 147.02ZM208.23 139.76L208.14 135.18L204.89 136.62ZM222.55 149.29L222.78 143.54L218.61 145.1ZM223.41 141.42L223.73 136.24L219.94 137.57ZM224.22 134.08L224.67 128.58L220.61 129.91ZM250.71 162.38L251.78 157.3L247.83 158.06ZM237.56 147.32L238.13 143.24L235.05 144.06ZM236.44 130.6L237.31 125.16L233.16 126.17ZM258.67 154.46L260.23 148.93L255.81 149.47ZM248.05 141.14L248.78 137.81L246.18 138.28ZM248.9 128.18L250.25 122.59L245.85 123.31ZM266.25 146.87L268.13 141.44L263.69 141.72ZM259.4 137.03L261 131.75L256.75 132.2ZM261.46 126.08L262.87 121.72L259.33 122.02ZM271.86 139.34L273.62 134.86L269.89 134.94ZM275.26 132.88L277.48 127.57L273.02 127.58ZM278.42 126.05L280.74 120.79L276.29 120.71ZM315.52 277.35L320.09 277.66L318.94 274.3ZM287.66 212.04L290.06 208.14L286.55 207.6ZM304.38 177.59L307.84 173L303.53 171.91ZM291.98 160.88L294.39 156.71L290.69 156.24ZM290.15 136.74L292.61 132.16L288.6 131.78ZM298.19 147.93L300.72 143.84L297.04 143.25ZM302.97 141.15L304.84 138.29L302.24 137.81ZM307.52 136.04L310.64 131.49L306.46 130.63ZM311.99 130.11L315.33 125.43L310.99 124.45ZM320.8 175.12L323.99 171.83L320.68 170.54ZM315.53 152.18L319.08 147.78L314.87 146.57ZM324.38 132.98L327.47 129.29L323.91 128.18ZM334.06 174.11L338.42 170.37L334.44 168.38ZM329.93 153.53L333.95 149.42L329.81 147.78ZM332.31 135.99L336.07 131.95L332.05 130.48ZM340.15 139.21L344.27 135.2L340.17 133.46ZM347.63 173.83L352.3 170.49L348.51 168.15ZM341.73 158.52L345.67 155.13L342.07 153.34ZM349.37 151.18L353.81 147.53L349.87 145.45ZM355.41 146.53L359.74 143.12L356 141.05ZM361.76 175.14L366.71 172.22L363.14 169.56ZM356.66 163.32L361.38 160.04L357.62 157.65ZM363.73 158.85L367.16 156.58L364.51 154.81ZM369.73 155.57L374.59 152.48L370.93 149.94ZM374.55 176.63L379.71 174.08L376.34 171.17ZM373.5 166.19L377.5 163.96L374.71 161.77ZM379.87 163.21L384.95 160.51L381.5 157.7ZM384.7 176.54L389.88 174.27L386.71 171.25ZM386.32 168.7L391.44 166.3L388.2 163.36ZM393.18 173.81L396.35 172.52L394.48 170.65ZM310.94 324.54L313.18 329.59L316.11 326.48ZM349.19 261.4L354.94 261.48L353.27 257.35ZM364.37 220.18L369.9 218.61L367.13 215.13ZM383.04 194.39L388.25 192.57L385.39 189.4ZM376.82 219.58L382.34 218.37L379.82 214.79ZM388.49 200.71L393.66 199.24L391.06 195.99ZM406.36 190.48L411.92 189.01L409.21 185.48ZM386.72 222.22L392.4 221.32L390.06 217.53ZM400.96 204.49L404.3 203.79L402.8 201.61ZM396.04 224.49L401.66 223.89L399.54 220.05ZM408.15 209.24L411.52 208.71L410.14 206.46ZM405.36 227.28L410.73 226.97L408.89 223.23ZM414.23 215.02L419.95 214.42L417.81 210.52ZM414.71 230.29L419.29 230.22L417.87 226.97ZM421.07 220.72L426.72 220.42L424.81 216.48ZM422.82 233.38L428.57 233.52L426.95 229.38ZM428 226.8L432.82 226.79L431.37 223.35ZM430.73 234.83L436.38 235.11L434.89 231ZM385.3 280.88L390.78 282.6L390.37 278.17ZM404.97 255.6L410.67 256.35L409.49 252.05ZM430.1 243.88L435.82 244.46L434.52 240.2ZM429.24 253.68L434.91 254.59L433.86 250.26ZM436.61 255.15L442.27 256.17L441.3 251.83ZM392.23 300.68L397.33 303.34L397.7 298.9ZM402.56 277.05L407.17 278.42L406.76 274.71ZM424.74 265.75L430.34 267.06L429.59 262.67ZM412.99 283.94L418.4 285.89L418.17 281.44ZM426.06 274.39L431.35 275.95L430.88 271.71ZM440.96 275.95L444.22 276.98L443.97 274.35ZM420.28 292.04L425.05 294.08L425.08 290.06ZM430.21 285.9L435.58 287.95L435.43 283.5ZM440.56 288.73L445.89 290.88L445.83 286.43ZM426.71 298.14L431.9 300.61L432.11 296.17ZM433.35 302.01L438.48 304.59L438.79 300.15ZM439.93 305.65L445.02 308.33L445.41 303.9ZM394.89 324.65L399.32 328.17L400.51 323.95ZM414.77 314.77L419.31 317.66L420.01 313.55ZM435.58 313.58L440.52 316.52L441.14 312.11ZM430.91 322.15L435.21 325.06L436 321.12ZM436.97 326.61L441.22 329.6L442.08 325.67ZM397.01 339.57L401.11 343.6L402.76 339.47ZM411.15 329.95L415.63 333.55L416.85 329.27ZM420.49 336.43L423.99 339.38L425.05 336ZM426.44 342.03L429 344.29L429.85 341.79ZM431.03 346.94L434.99 350.57L436.4 346.65ZM397.84 354.81L401.15 358.8L403.01 355.24ZM411.84 349.65L415.19 353.11L416.66 349.68ZM419.84 356.95L423.11 360.49L424.66 357.1ZM424.82 362.73L427.86 366.16L429.4 362.96ZM398.36 367.21L401.69 371.9L404.04 368.11ZM411.07 366.04L414.49 370.37L416.56 366.63ZM419.34 374.26L421.4 376.98L422.73 374.69ZM400.68 377.54L402.9 381.01L404.71 378.39ZM412.01 379.66L413.94 382.49L415.38 380.27ZM403.4 384.98L405.87 389.11L408.08 386.1ZM407.27 391.78L409.32 395.35L411.25 392.81ZM257.73 343.83L254.17 347.86L258.11 349.19ZM299 348.87L298.94 354.52L303 352.87ZM332.74 368.94L334.06 374.44L337.59 371.84ZM374.12 387.23L376.32 392.44L379.38 389.3ZM390 390.18L392.51 395.25L395.37 391.94ZM392.79 397.3L395.23 402.5L398.22 399.2ZM395.8 404.3L398.04 409.34L400.96 406.23ZM380.04 405.85L381.65 410.39L384.41 407.88ZM389.79 410.27L391.82 415.55L394.98 412.52ZM383.5 415.94L385.29 421.41L388.65 418.49ZM334.74 407.74L335.16 413.47L339.13 411.46ZM356.77 406.44L358.01 412.06L361.65 409.49ZM372.75 415.91L374.25 421.46L377.76 418.72ZM356.7 418.98L357.62 424.42L361.23 422.13ZM365.39 421.31L366.57 426.94L370.23 424.41ZM366.65 428.73L367.72 434.38L371.43 431.92ZM355.11 427.84L355.86 433.54L359.71 431.3ZM355.93 435.55L356.5 440.71L360.01 438.75ZM319.61 421.52L319.19 427.25L323.41 425.83ZM329.3 425.24L329.2 430.99L333.34 429.33ZM336.54 429.62L336.64 435.37L340.72 433.57ZM342.65 434.66L342.85 439.84L346.49 438.14ZM348.3 439.25L348.64 444.99L352.64 443.03ZM328.31 436.8L328.04 442.16L331.96 440.75ZM328.76 447.35L328.36 453.08L332.58 451.65ZM315.99 436.96L315.27 442.66L319.56 441.47ZM316.66 451.23L315.9 456.36L319.79 455.36ZM285.07 359.61L283.6 365.17L288 364.55ZM298.07 406.03L296.9 411.66L301.27 410.8ZM304.37 454.72L303.61 458.05L306.22 457.59ZM281.85 366.86L280.07 372.33L284.51 371.95ZM278.08 374.19L276.22 379.04L280.24 378.91ZM286.11 411.23L284.39 416.61L288.75 416.23ZM285.88 448.98L284.01 454.42L288.45 454.13ZM283.18 456.43L281.52 460.95L285.25 460.78ZM273.17 380.79L270.81 386.04L275.26 386.15ZM269.73 387.5L267.19 392.66L271.63 392.93ZM264.95 394.24L262.46 398.8L266.46 399.21ZM267.77 428.56L265.25 433.72L269.7 433.97ZM259.25 400.28L256.39 405L260.62 405.62ZM260.37 431.39L257.58 436.42L262.01 436.89ZM253.61 406.16L250.43 410.95L254.81 411.78ZM246.98 412.85L244.98 415.62L247.55 416.22ZM248.35 436.65L245.32 441.25L249.52 442.04ZM239.85 417.09L236.41 421.4L240.52 422.56ZM240.13 438.39L236.86 442.84L241.02 443.84ZM232.7 422.07L229.09 426.24L233.15 427.56ZM224.92 426.49L220.98 430.67L225.16 432.23ZM226.84 441.66L223.09 446.01L227.32 447.38ZM216.22 430.38L212.1 434.39L216.19 436.13ZM217.96 442.16L214 446.32L218.16 447.91ZM207.75 434.68L204.35 437.75L207.56 439.26ZM208.91 442.15L204.74 446.1L208.81 447.9ZM201.01 439.02L197.53 441.99L200.7 443.59ZM207.12 331.55L201.42 332.33L203.69 336.16ZM205.47 367.36L200.46 369.66L203.61 372.55ZM211.99 394.82L209.21 396.82L211.47 398.2ZM200.31 423.1L196.68 425.89L199.76 427.65ZM199.92 406.18L195.15 409.38L198.87 411.83ZM193.09 410.04L188.56 412.92L191.98 415.29ZM186.32 413.42L181.4 416.39L185 419.01ZM179.44 416.83L174.45 419.69L177.99 422.39ZM172.67 420.45L167.95 423.04L171.21 425.63ZM186.7 356.48L181.11 357.83L183.75 361.41ZM183.33 363.37L177.79 364.89L180.54 368.4ZM180.28 371.33L175.91 372.7L178.19 375.41ZM178.06 378.66L172.98 380.42L175.77 383.52ZM175.45 385.68L170.07 387.7L173.13 390.93ZM172.44 393.49L168.62 395.03L170.87 397.29ZM170.59 400.46L165.66 402.6L168.66 405.48ZM168.55 407.71L163.33 410.11L166.61 413.12ZM166 415.2L161.67 417.3L164.46 419.77ZM158.54 383.45L155.24 384.36L156.88 386.44ZM175.05 315.72L169.37 314.82L170.43 319.14ZM164.33 347.17L159.76 347.49L161.36 350.66ZM147.44 367.32L144.06 367.79L145.41 370.07ZM139.04 377.75L133.37 378.71L135.75 382.47ZM137.11 368.15L131.77 368.75L133.79 372.38ZM129.76 368.61L124.03 369.14L126.12 373.07ZM142.24 347.04L136.49 347.04L138.21 351.14ZM132.18 358.14L126.43 358.37L128.32 362.4ZM132.98 344.32L128.87 344.15L129.99 347.14ZM125.76 351.99L120.01 351.93L121.69 356.05ZM125.57 342.2L120.21 341.83L121.55 345.77ZM118.09 341.4L112.74 340.92L114.01 344.89ZM164.48 292.6L160.67 291.06L160.71 294.24ZM161.38 318.21L156.08 317.33L157.04 321.38ZM153.89 315.2L148.26 314.05L149.12 318.42ZM131.11 325.27L126.36 324.47L127.22 328.1ZM146.33 311.82L140.74 310.46L141.44 314.85ZM138.63 308.18L133.63 306.78L134.13 310.77ZM121.82 315.18L117.83 314.19L118.32 317.34ZM130.85 304.58L126.92 303.34L127.22 306.52ZM123.73 301.57L119.84 300.24L120.06 303.42ZM116.37 298.49L113.16 297.32L113.29 299.96ZM110.49 295.59L105.13 293.5L105.25 297.95ZM156.77 266.26L153.38 263.92L152.73 267.04ZM145 281.92L139.87 279.33L139.55 283.77ZM123.09 287.42L119.98 286.03L119.91 288.67ZM138.71 275.12L133.79 272.34L133.28 276.69ZM120.6 279.4L116.52 277.31L116.26 280.85ZM132.01 268.36L128.51 266.2L128.02 269.34ZM118.54 271.11L113.57 268.23L113 272.65ZM126.78 262.87L121.99 259.69L121.16 264.07ZM120.58 258.07L116.17 255L115.3 259.08ZM114.64 253.56L110.17 250.32L109.2 254.48ZM149.04 246.04L144.79 242.17L143.3 246.36ZM129.8 248.1L126.25 245.2L125.25 248.61ZM118.1 241.34L113.72 237.62L112.38 241.86ZM142.25 235.14L138.22 231.04L136.5 235.14ZM126.57 235.47L123.58 232.65L122.46 235.63ZM138.39 226.95L134.54 222.68L132.65 226.72ZM127.07 226.8L123.25 222.82L121.56 226.74ZM134.18 219.94L130.45 215.56L128.45 219.54ZM129.52 214.03L125.87 209.59L123.79 213.53Z"/>
<path fill="#f4646c" d="M121.01 196.93a0.85 0.85 0 1 0 1.7 0a0.85 0.85 0 1 0 -1.7 0ZM123.48 193.03a0.85 0.85 0 1 0 1.7 0a0.85 0.85 0 1 0 -1.7 0ZM126.04 189.18a0.85 0.85 0 1 0 1.7 0a0.85 0.85 0 1 0 -1.7 0ZM131.46 181.7a0.85 0.85 0 1 0 1.7 0a0.85 0.85 0 1 0 -1.7 0ZM134.31 178.06a0.85 0.85 0 1 0 1.7 0a0.85 0.85 0 1 0 -1.7 0ZM137.26 174.5a0.85 0.85 0 1 0 1.7 0a0.85 0.85 0 1 0 -1.7 0ZM146.63 164.28a0.85 0.85 0 1 0 1.7 0a0.85 0.85 0 1 0 -1.7 0ZM149.92 161.04a0.85 0.85 0 1 0 1.7 0a0.85 0.85 0 1 0 -1.7 0ZM153.3 157.89a0.85 0.85 0 1 0 1.7 0a0.85 0.85 0 1 0 -1.7 0ZM160.29 151.84a0.85 0.85 0 1 0 1.7 0a0.85 0.85 0 1 0 -1.7 0ZM163.9 148.95a0.85 0.85 0 1 0 1.7 0a0.85 0.85 0 1 0 -1.7 0ZM171.33 143.46a0.85 0.85 0 1 0 1.7 0a0.85 0.85 0 1 0 -1.7 0ZM182.98 135.96a0.85 0.85 0 1 0 1.7 0a0.85 0.85 0 1 0 -1.7 0ZM186.99 133.66a0.85 0.85 0 1 0 1.7 0a0.85 0.85 0 1 0 -1.7 0ZM191.06 131.46a0.85 0.85 0 1 0 1.7 0a0.85 0.85 0 1 0 -1.7 0ZM203.57 125.51a0.85 0.85 0 1 0 1.7 0a0.85 0.85 0 1 0 -1.7 0ZM207.84 123.74a0.85 0.85 0 1 0 1.7 0a0.85 0.85 0 1 0 -1.7 0ZM225.33 117.78a0.85 0.85 0 1 0 1.7 0a0.85 0.85 0 1 0 -1.7 0ZM238.8 114.5a0.85 0.85 0 1 0 1.7 0a0.85 0.85 0 1 0 -1.7 0ZM243.34 113.64a0.85 0.85 0 1 0 1.7 0a0.85 0.85 0 1 0 -1.7 0ZM247.9 112.9a0.85 0.85 0 1 0 1.7 0a0.85 0.85 0 1 0 -1.7 0ZM252.48 112.27a0.85 0.85 0 1 0 1.7 0a0.85 0.85 0 1 0 -1.7 0ZM257.07 111.76a0.85 0.85 0 1 0 1.7 0a0.85 0.85 0 1 0 -1.7 0ZM261.68 111.37a0.85 0.85 0 1 0 1.7 0a0.85 0.85 0 1 0 -1.7 0ZM280.15 110.98a0.85 0.85 0 1 0 1.7 0a0.85 0.85 0 1 0 -1.7 0ZM284.77 111.18a0.85 0.85 0 1 0 1.7 0a0.85 0.85 0 1 0 -1.7 0ZM289.38 111.5a0.85 0.85 0 1 0 1.7 0a0.85 0.85 0 1 0 -1.7 0ZM293.98 111.94a0.85 0.85 0 1 0 1.7 0a0.85 0.85 0 1 0 -1.7 0ZM307.69 113.96a0.85 0.85 0 1 0 1.7 0a0.85 0.85 0 1 0 -1.7 0ZM312.22 114.86a0.85 0.85 0 1 0 1.7 0a0.85 0.85 0 1 0 -1.7 0ZM325.66 118.27a0.85 0.85 0 1 0 1.7 0a0.85 0.85 0 1 0 -1.7 0ZM330.07 119.63a0.85 0.85 0 1 0 1.7 0a0.85 0.85 0 1 0 -1.7 0ZM334.45 121.11a0.85 0.85 0 1 0 1.7 0a0.85 0.85 0 1 0 -1.7 0ZM338.79 122.7a0.85 0.85 0 1 0 1.7 0a0.85 0.85 0 1 0 -1.7 0ZM343.09 124.4a0.85 0.85 0 1 0 1.7 0a0.85 0.85 0 1 0 -1.7 0ZM347.34 126.21a0.85 0.85 0 1 0 1.7 0a0.85 0.85 0 1 0 -1.7 0ZM351.54 128.13a0.85 0.85 0 1 0 1.7 0a0.85 0.85 0 1 0 -1.7 0ZM355.7 130.15a0.85 0.85 0 1 0 1.7 0a0.85 0.85 0 1 0 -1.7 0ZM379.41 144.48a0.85 0.85 0 1 0 1.7 0a0.85 0.85 0 1 0 -1.7 0ZM390.37 152.96a0.85 0.85 0 1 0 1.7 0a0.85 0.85 0 1 0 -1.7 0ZM400.64 162.27a0.85 0.85 0 1 0 1.7 0a0.85 0.85 0 1 0 -1.7 0ZM403.9 165.54a0.85 0.85 0 1 0 1.7 0a0.85 0.85 0 1 0 -1.7 0ZM413.17 175.85a0.85 0.85 0 1 0 1.7 0a0.85 0.85 0 1 0 -1.7 0ZM416.08 179.44a0.85 0.85 0 1 0 1.7 0a0.85 0.85 0 1 0 -1.7 0ZM424.25 190.64a0.85 0.85 0 1 0 1.7 0a0.85 0.85 0 1 0 -1.7 0ZM429.2 198.44a0.85 0.85 0 1 0 1.7 0a0.85 0.85 0 1 0 -1.7 0ZM431.53 202.43a0.85 0.85 0 1 0 1.7 0a0.85 0.85 0 1 0 -1.7 0ZM433.75 206.48a0.85 0.85 0 1 0 1.7 0a0.85 0.85 0 1 0 -1.7 0ZM435.87 210.59a0.85 0.85 0 1 0 1.7 0a0.85 0.85 0 1 0 -1.7 0ZM441.58 223.22a0.85 0.85 0 1 0 1.7 0a0.85 0.85 0 1 0 -1.7 0ZM444.84 231.87a0.85 0.85 0 1 0 1.7 0a0.85 0.85 0 1 0 -1.7 0ZM446.3 236.25a0.85 0.85 0 1 0 1.7 0a0.85 0.85 0 1 0 -1.7 0ZM451.01 254.12a0.85 0.85 0 1 0 1.7 0a0.85 0.85 0 1 0 -1.7 0ZM451.9 258.65a0.85 0.85 0 1 0 1.7 0a0.85 0.85 0 1 0 -1.7 0ZM454.3 276.97a0.85 0.85 0 1 0 1.7 0a0.85 0.85 0 1 0 -1.7 0ZM454.6 281.59a0.85 0.85 0 1 0 1.7 0a0.85 0.85 0 1 0 -1.7 0ZM454.85 290.82a0.85 0.85 0 1 0 1.7 0a0.85 0.85 0 1 0 -1.7 0ZM454.8 295.44a0.85 0.85 0 1 0 1.7 0a0.85 0.85 0 1 0 -1.7 0ZM454.34 304.68a0.85 0.85 0 1 0 1.7 0a0.85 0.85 0 1 0 -1.7 0ZM453.93 309.28a0.85 0.85 0 1 0 1.7 0a0.85 0.85 0 1 0 -1.7 0ZM453.41 313.87a0.85 0.85 0 1 0 1.7 0a0.85 0.85 0 1 0 -1.7 0ZM452.76 318.45a0.85 0.85 0 1 0 1.7 0a0.85 0.85 0 1 0 -1.7 0ZM452 323a0.85 0.85 0 1 0 1.7 0a0.85 0.85 0 1 0 -1.7 0ZM451.13 327.54a0.85 0.85 0 1 0 1.7 0a0.85 0.85 0 1 0 -1.7 0ZM450.13 332.06a0.85 0.85 0 1 0 1.7 0a0.85 0.85 0 1 0 -1.7 0ZM445.02 349.81a0.85 0.85 0 1 0 1.7 0a0.85 0.85 0 1 0 -1.7 0ZM443.46 354.16a0.85 0.85 0 1 0 1.7 0a0.85 0.85 0 1 0 -1.7 0ZM436.11 371.11a0.85 0.85 0 1 0 1.7 0a0.85 0.85 0 1 0 -1.7 0ZM431.8 379.29a0.85 0.85 0 1 0 1.7 0a0.85 0.85 0 1 0 -1.7 0ZM416.42 402.33a0.85 0.85 0 1 0 1.7 0a0.85 0.85 0 1 0 -1.7 0ZM407.46 412.9a0.85 0.85 0 1 0 1.7 0a0.85 0.85 0 1 0 -1.7 0ZM404.29 416.26a0.85 0.85 0 1 0 1.7 0a0.85 0.85 0 1 0 -1.7 0ZM390.79 428.88a0.85 0.85 0 1 0 1.7 0a0.85 0.85 0 1 0 -1.7 0ZM387.22 431.81a0.85 0.85 0 1 0 1.7 0a0.85 0.85 0 1 0 -1.7 0ZM379.86 437.4a0.85 0.85 0 1 0 1.7 0a0.85 0.85 0 1 0 -1.7 0ZM376.07 440.05a0.85 0.85 0 1 0 1.7 0a0.85 0.85 0 1 0 -1.7 0ZM372.22 442.6a0.85 0.85 0 1 0 1.7 0a0.85 0.85 0 1 0 -1.7 0ZM368.3 445.05a0.85 0.85 0 1 0 1.7 0a0.85 0.85 0 1 0 -1.7 0ZM364.32 447.4a0.85 0.85 0 1 0 1.7 0a0.85 0.85 0 1 0 -1.7 0ZM356.19 451.8a0.85 0.85 0 1 0 1.7 0a0.85 0.85 0 1 0 -1.7 0ZM352.04 453.83a0.85 0.85 0 1 0 1.7 0a0.85 0.85 0 1 0 -1.7 0ZM343.6 457.59a0.85 0.85 0 1 0 1.7 0a0.85 0.85 0 1 0 -1.7 0ZM339.31 459.3a0.85 0.85 0 1 0 1.7 0a0.85 0.85 0 1 0 -1.7 0ZM326.19 463.77a0.85 0.85 0 1 0 1.7 0a0.85 0.85 0 1 0 -1.7 0ZM308.23 468.14a0.85 0.85 0 1 0 1.7 0a0.85 0.85 0 1 0 -1.7 0ZM299.11 469.63a0.85 0.85 0 1 0 1.7 0a0.85 0.85 0 1 0 -1.7 0ZM285.32 470.98a0.85 0.85 0 1 0 1.7 0a0.85 0.85 0 1 0 -1.7 0ZM276.08 471.29a0.85 0.85 0 1 0 1.7 0a0.85 0.85 0 1 0 -1.7 0ZM257.62 470.49a0.85 0.85 0 1 0 1.7 0a0.85 0.85 0 1 0 -1.7 0ZM253.03 470a0.85 0.85 0 1 0 1.7 0a0.85 0.85 0 1 0 -1.7 0ZM248.45 469.38a0.85 0.85 0 1 0 1.7 0a0.85 0.85 0 1 0 -1.7 0ZM239.34 467.81a0.85 0.85 0 1 0 1.7 0a0.85 0.85 0 1 0 -1.7 0ZM221.43 463.26a0.85 0.85 0 1 0 1.7 0a0.85 0.85 0 1 0 -1.7 0ZM212.67 460.31a0.85 0.85 0 1 0 1.7 0a0.85 0.85 0 1 0 -1.7 0ZM208.36 458.66a0.85 0.85 0 1 0 1.7 0a0.85 0.85 0 1 0 -1.7 0ZM204.08 456.91a0.85 0.85 0 1 0 1.7 0a0.85 0.85 0 1 0 -1.7 0ZM199.85 455.04a0.85 0.85 0 1 0 1.7 0a0.85 0.85 0 1 0 -1.7 0ZM195.67 453.07a0.85 0.85 0 1 0 1.7 0a0.85 0.85 0 1 0 -1.7 0ZM191.55 450.99a0.85 0.85 0 1 0 1.7 0a0.85 0.85 0 1 0 -1.7 0ZM187.47 448.81a0.85 0.85 0 1 0 1.7 0a0.85 0.85 0 1 0 -1.7 0ZM179.5 444.13a0.85 0.85 0 1 0 1.7 0a0.85 0.85 0 1 0 -1.7 0ZM175.61 441.64a0.85 0.85 0 1 0 1.7 0a0.85 0.85 0 1 0 -1.7 0ZM164.33 433.58a0.85 0.85 0 1 0 1.7 0a0.85 0.85 0 1 0 -1.7 0ZM160.71 430.71a0.85 0.85 0 1 0 1.7 0a0.85 0.85 0 1 0 -1.7 0ZM153.71 424.68a0.85 0.85 0 1 0 1.7 0a0.85 0.85 0 1 0 -1.7 0ZM150.32 421.54a0.85 0.85 0 1 0 1.7 0a0.85 0.85 0 1 0 -1.7 0ZM143.8 414.99a0.85 0.85 0 1 0 1.7 0a0.85 0.85 0 1 0 -1.7 0ZM134.66 404.57a0.85 0.85 0 1 0 1.7 0a0.85 0.85 0 1 0 -1.7 0ZM129.03 397.24a0.85 0.85 0 1 0 1.7 0a0.85 0.85 0 1 0 -1.7 0ZM123.78 389.64a0.85 0.85 0 1 0 1.7 0a0.85 0.85 0 1 0 -1.7 0ZM118.92 381.77a0.85 0.85 0 1 0 1.7 0a0.85 0.85 0 1 0 -1.7 0ZM116.65 377.75a0.85 0.85 0 1 0 1.7 0a0.85 0.85 0 1 0 -1.7 0ZM110.46 365.35a0.85 0.85 0 1 0 1.7 0a0.85 0.85 0 1 0 -1.7 0ZM105.24 352.51a0.85 0.85 0 1 0 1.7 0a0.85 0.85 0 1 0 -1.7 0ZM102.31 343.74a0.85 0.85 0 1 0 1.7 0a0.85 0.85 0 1 0 -1.7 0ZM101.02 339.31a0.85 0.85 0 1 0 1.7 0a0.85 0.85 0 1 0 -1.7 0ZM99.84 334.84a0.85 0.85 0 1 0 1.7 0a0.85 0.85 0 1 0 -1.7 0ZM98.77 330.34a0.85 0.85 0 1 0 1.7 0a0.85 0.85 0 1 0 -1.7 0ZM96.99 321.27a0.85 0.85 0 1 0 1.7 0a0.85 0.85 0 1 0 -1.7 0ZM95.2 307.53a0.85 0.85 0 1 0 1.7 0a0.85 0.85 0 1 0 -1.7 0ZM94.84 302.92a0.85 0.85 0 1 0 1.7 0a0.85 0.85 0 1 0 -1.7 0ZM94.59 298.31a0.85 0.85 0 1 0 1.7 0a0.85 0.85 0 1 0 -1.7 0ZM94.8 279.83a0.85 0.85 0 1 0 1.7 0a0.85 0.85 0 1 0 -1.7 0ZM95.62 270.62a0.85 0.85 0 1 0 1.7 0a0.85 0.85 0 1 0 -1.7 0ZM96.9 261.47a0.85 0.85 0 1 0 1.7 0a0.85 0.85 0 1 0 -1.7 0ZM97.72 256.92a0.85 0.85 0 1 0 1.7 0a0.85 0.85 0 1 0 -1.7 0ZM100.87 243.43a0.85 0.85 0 1 0 1.7 0a0.85 0.85 0 1 0 -1.7 0ZM103.54 234.58a0.85 0.85 0 1 0 1.7 0a0.85 0.85 0 1 0 -1.7 0ZM105.05 230.21a0.85 0.85 0 1 0 1.7 0a0.85 0.85 0 1 0 -1.7 0ZM110.23 217.35a0.85 0.85 0 1 0 1.7 0a0.85 0.85 0 1 0 -1.7 0ZM112.18 213.16a0.85 0.85 0 1 0 1.7 0a0.85 0.85 0 1 0 -1.7 0ZM114.23 209.02a0.85 0.85 0 1 0 1.7 0a0.85 0.85 0 1 0 -1.7 0ZM116.39 204.94a0.85 0.85 0 1 0 1.7 0a0.85 0.85 0 1 0 -1.7 0Z"/>
<path fill="#55b4e4" d="M128.62 184.73L129.38 184.88L129.91 184.31L130 185.08L130.7 185.4L130 185.73L129.91 186.5L129.38 185.93L128.62 186.08L129 185.41ZM140.29 170.25L141.03 170.48L141.61 169.96L141.62 170.74L142.29 171.13L141.55 171.38L141.39 172.14L140.92 171.52L140.15 171.59L140.6 170.96ZM143.43 166.82L144.16 167.07L144.76 166.57L144.75 167.34L145.41 167.75L144.67 167.99L144.48 168.74L144.03 168.11L143.26 168.16L143.72 167.54ZM167.74 145.24L168.42 145.61L169.1 145.23L168.95 145.99L169.52 146.51L168.75 146.6L168.44 147.31L168.11 146.61L167.34 146.53L167.9 146ZM175.36 139.9L176.02 140.31L176.71 139.96L176.53 140.71L177.08 141.26L176.3 141.32L175.95 142.01L175.66 141.29L174.89 141.17L175.48 140.67ZM195.52 128.34L196.12 128.83L196.85 128.57L196.57 129.29L197.04 129.91L196.27 129.87L195.83 130.5L195.63 129.75L194.89 129.53L195.54 129.11ZM199.72 126.34L200.31 126.85L201.05 126.61L200.75 127.32L201.2 127.95L200.43 127.89L199.98 128.51L199.8 127.76L199.06 127.52L199.72 127.12ZM212.61 121L213.16 121.55L213.91 121.37L213.56 122.06L213.96 122.72L213.2 122.6L212.69 123.19L212.57 122.42L211.86 122.13L212.55 121.78ZM216.99 119.45L217.52 120.01L218.28 119.85L217.91 120.53L218.3 121.2L217.54 121.06L217.02 121.64L216.92 120.87L216.21 120.55L216.91 120.22ZM221.41 118L221.93 118.58L222.69 118.44L222.3 119.11L222.68 119.79L221.92 119.63L221.39 120.19L221.31 119.42L220.6 119.09L221.31 118.77ZM234.88 114.36L235.35 114.97L236.12 114.89L235.68 115.53L236 116.23L235.26 116.02L234.68 116.54L234.66 115.76L233.99 115.38L234.72 115.12ZM267.09 109.95L267.44 110.63L268.22 110.69L267.67 111.24L267.86 111.99L267.17 111.64L266.51 112.05L266.63 111.29L266.03 110.79L266.8 110.66ZM271.73 109.79L272.07 110.49L272.84 110.56L272.28 111.1L272.45 111.85L271.77 111.49L271.1 111.88L271.24 111.12L270.66 110.61L271.43 110.5ZM276.38 109.75L276.7 110.46L277.47 110.55L276.9 111.07L277.05 111.84L276.38 111.45L275.7 111.83L275.86 111.07L275.29 110.54L276.06 110.46ZM299.57 111.35L299.79 112.1L300.55 112.29L299.91 112.73L299.96 113.51L299.34 113.04L298.62 113.33L298.87 112.59L298.38 112L299.15 112.01ZM304.17 112.03L304.38 112.78L305.12 112.99L304.48 113.42L304.51 114.19L303.9 113.71L303.17 113.98L303.44 113.25L302.96 112.64L303.74 112.68ZM317.85 114.76L318 115.52L318.73 115.79L318.05 116.17L318.02 116.94L317.45 116.42L316.7 116.63L317.03 115.93L316.6 115.28L317.37 115.37ZM322.36 115.91L322.49 116.67L323.21 116.96L322.52 117.32L322.47 118.09L321.92 117.55L321.17 117.74L321.51 117.05L321.09 116.39L321.86 116.51ZM361.19 131.27L361.14 132.05L361.78 132.49L361.03 132.68L360.8 133.43L360.39 132.77L359.61 132.79L360.11 132.19L359.85 131.46L360.57 131.74ZM365.26 133.52L365.19 134.3L365.82 134.75L365.06 134.93L364.82 135.66L364.42 135L363.64 135L364.15 134.41L363.92 133.67L364.63 133.98ZM377.11 140.89L376.98 141.65L377.57 142.16L376.8 142.27L376.5 142.99L376.16 142.3L375.38 142.23L375.93 141.69L375.76 140.93L376.44 141.29ZM384.68 146.29L384.51 147.05L385.07 147.59L384.3 147.66L383.96 148.36L383.65 147.65L382.88 147.55L383.46 147.03L383.32 146.27L383.99 146.66ZM395.48 155.11L395.26 155.86L395.78 156.43L395 156.45L394.61 157.12L394.36 156.39L393.6 156.23L394.22 155.76L394.14 154.99L394.77 155.43ZM398.93 158.24L398.69 158.97L399.19 159.56L398.41 159.56L398.01 160.22L397.77 159.48L397.02 159.3L397.65 158.85L397.59 158.07L398.21 158.53ZM408.78 168.12L408.48 168.83L408.93 169.46L408.16 169.4L407.71 170.02L407.53 169.27L406.79 169.03L407.45 168.63L407.45 167.85L408.04 168.36ZM411.89 171.57L411.57 172.28L412.01 172.92L411.24 172.84L410.77 173.45L410.61 172.69L409.88 172.44L410.55 172.05L410.57 171.27L411.14 171.8ZM420.67 182.41L420.3 183.09L420.69 183.76L419.93 183.62L419.41 184.2L419.31 183.43L418.6 183.12L419.3 182.78L419.38 182.01L419.91 182.57ZM428.59 193.89L428.17 194.54L428.51 195.24L427.76 195.04L427.2 195.58L427.16 194.8L426.48 194.43L427.2 194.16L427.34 193.39L427.83 193.99ZM439.77 214.27L439.27 214.86L439.51 215.59L438.79 215.3L438.17 215.76L438.23 214.99L437.6 214.53L438.35 214.35L438.59 213.61L438.99 214.27ZM441.68 218.5L441.17 219.08L441.39 219.82L440.68 219.51L440.05 219.95L440.13 219.18L439.51 218.72L440.27 218.55L440.52 217.82L440.91 218.49ZM445.19 227.12L444.64 227.67L444.83 228.42L444.14 228.07L443.48 228.48L443.6 227.72L443 227.22L443.77 227.09L444.06 226.38L444.41 227.06ZM449.6 240.35L449.02 240.86L449.15 241.62L448.48 241.22L447.8 241.58L447.97 240.83L447.42 240.28L448.19 240.22L448.54 239.52L448.84 240.24ZM450.85 244.83L450.25 245.32L450.36 246.09L449.71 245.67L449.01 246.02L449.2 245.26L448.66 244.71L449.44 244.66L449.8 243.98L450.08 244.7ZM454.66 263.03L454.02 263.46L454.05 264.23L453.44 263.75L452.71 264.02L452.99 263.29L452.5 262.68L453.28 262.72L453.71 262.07L453.92 262.82ZM456.78 286.17L456.09 286.51L456.02 287.29L455.48 286.73L454.72 286.9L455.08 286.22L454.69 285.55L455.45 285.68L455.96 285.1L456.07 285.87ZM456.63 300.12L455.91 300.41L455.78 301.17L455.28 300.58L454.51 300.69L454.93 300.04L454.58 299.34L455.33 299.53L455.89 298.99L455.94 299.76ZM450.99 336.83L450.23 336.97L449.94 337.69L449.58 337L448.81 336.96L449.34 336.4L449.15 335.65L449.84 335.99L450.5 335.57L450.39 336.34ZM449.76 341.32L448.99 341.43L448.69 342.15L448.35 341.45L447.57 341.39L448.13 340.85L447.95 340.09L448.64 340.45L449.3 340.05L449.17 340.81ZM448.41 345.77L447.64 345.86L447.33 346.57L447 345.87L446.23 345.79L446.79 345.26L446.63 344.5L447.31 344.87L447.99 344.49L447.84 345.25ZM443.7 358.9L442.93 358.93L442.55 359.61L442.28 358.89L441.52 358.75L442.12 358.26L442.02 357.49L442.67 357.92L443.37 357.59L443.17 358.33ZM441.91 363.19L441.13 363.2L440.74 363.88L440.49 363.14L439.73 362.98L440.35 362.51L440.27 361.74L440.9 362.18L441.61 361.87L441.39 362.61ZM440 367.43L439.23 367.43L438.82 368.09L438.59 367.35L437.83 367.17L438.46 366.72L438.4 365.94L439.03 366.4L439.74 366.1L439.5 366.84ZM428.89 387.84L428.12 387.74L427.64 388.34L427.5 387.58L426.77 387.3L427.45 386.93L427.49 386.16L428.05 386.69L428.8 386.49L428.47 387.19ZM426.36 391.74L425.59 391.62L425.09 392.21L424.97 391.45L424.25 391.15L424.95 390.8L425.01 390.03L425.55 390.57L426.31 390.39L425.95 391.08ZM423.73 395.58L422.97 395.44L422.45 396.01L422.35 395.25L421.64 394.93L422.34 394.6L422.42 393.83L422.95 394.39L423.71 394.23L423.34 394.91ZM421 399.34L420.24 399.18L419.71 399.75L419.63 398.98L418.93 398.65L419.64 398.33L419.74 397.56L420.26 398.14L421.02 397.99L420.63 398.66ZM415.26 406.66L414.51 406.46L413.95 407L413.91 406.22L413.23 405.86L413.95 405.58L414.09 404.82L414.58 405.42L415.35 405.31L414.92 405.96ZM412.25 410.21L411.51 409.99L410.93 410.51L410.91 409.74L410.24 409.35L410.97 409.09L411.13 408.33L411.6 408.95L412.37 408.86L411.93 409.5ZM402.69 420.37L401.97 420.09L401.36 420.57L401.39 419.79L400.75 419.36L401.5 419.15L401.72 418.41L402.14 419.06L402.92 419.03L402.43 419.64ZM395.9 426.72L395.19 426.4L394.55 426.85L394.63 426.08L394.01 425.61L394.77 425.45L395.02 424.71L395.41 425.38L396.19 425.4L395.67 425.98ZM361.68 450.66L361.06 450.2L360.34 450.48L360.59 449.75L360.1 449.15L360.87 449.17L361.29 448.51L361.51 449.25L362.27 449.45L361.63 449.89ZM349.16 456.82L348.58 456.3L347.84 456.53L348.15 455.82L347.7 455.19L348.47 455.26L348.93 454.64L349.1 455.4L349.84 455.65L349.17 456.04ZM336.21 461.99L335.67 461.43L334.91 461.6L335.27 460.92L334.87 460.25L335.64 460.39L336.15 459.8L336.26 460.57L336.97 460.87L336.27 461.21ZM331.8 463.49L331.28 462.92L330.52 463.07L330.9 462.4L330.52 461.72L331.28 461.87L331.8 461.3L331.89 462.07L332.6 462.39L331.89 462.72ZM322.89 466.15L322.4 465.55L321.63 465.67L322.04 465.01L321.7 464.32L322.45 464.51L323 463.96L323.05 464.74L323.74 465.1L323.02 465.38ZM318.39 467.31L317.91 466.7L317.14 466.79L317.57 466.15L317.24 465.44L317.99 465.65L318.55 465.12L318.58 465.9L319.26 466.27L318.54 466.54ZM313.86 468.35L313.39 467.73L312.62 467.8L313.06 467.17L312.75 466.46L313.5 466.69L314.08 466.17L314.09 466.95L314.76 467.34L314.02 467.59ZM304.72 470.08L304.28 469.44L303.51 469.47L303.99 468.86L303.72 468.14L304.44 468.4L305.05 467.92L305.02 468.69L305.67 469.12L304.92 469.33ZM295.5 471.34L295.1 470.68L294.33 470.67L294.84 470.09L294.6 469.35L295.32 469.65L295.95 469.2L295.88 469.97L296.5 470.43L295.75 470.61ZM290.87 471.8L290.49 471.12L289.72 471.1L290.24 470.53L290.02 469.78L290.73 470.1L291.37 469.67L291.28 470.44L291.9 470.91L291.14 471.07ZM281.59 472.35L281.24 471.65L280.47 471.59L281.02 471.05L280.84 470.29L281.53 470.65L282.2 470.25L282.07 471.01L282.66 471.52L281.89 471.63ZM272.29 472.42L271.98 471.71L271.21 471.61L271.79 471.09L271.65 470.33L272.32 470.72L273 470.35L272.84 471.11L273.4 471.65L272.63 471.72ZM267.64 472.28L267.35 471.56L266.58 471.44L267.18 470.94L267.06 470.17L267.71 470.58L268.41 470.23L268.22 470.98L268.77 471.53L267.99 471.59ZM263 472.02L262.72 471.29L261.96 471.15L262.57 470.67L262.47 469.9L263.12 470.32L263.82 469.99L263.61 470.74L264.14 471.3L263.37 471.34ZM244.54 469.79L244.34 469.04L243.6 468.82L244.25 468.4L244.23 467.62L244.83 468.11L245.56 467.85L245.28 468.58L245.75 469.19L244.98 469.15ZM235.42 467.96L235.26 467.21L234.53 466.95L235.2 466.56L235.22 465.79L235.79 466.31L236.54 466.09L236.22 466.79L236.66 467.43L235.89 467.35ZM97.55 326.04L98.18 325.59L98.12 324.81L98.74 325.27L99.46 324.98L99.22 325.71L99.72 326.3L98.94 326.3L98.54 326.96L98.3 326.22ZM95.39 312.26L96.05 311.85L96.05 311.08L96.64 311.58L97.38 311.34L97.08 312.06L97.53 312.69L96.76 312.62L96.31 313.25L96.13 312.5ZM94.17 293.7L94.87 293.37L94.95 292.6L95.48 293.16L96.24 293L95.87 293.68L96.26 294.35L95.5 294.21L94.98 294.79L94.88 294.02ZM94.16 289.05L94.87 288.74L94.97 287.97L95.49 288.54L96.25 288.4L95.86 289.07L96.23 289.75L95.48 289.59L94.94 290.15L94.86 289.38ZM94.27 284.4L94.99 284.11L95.11 283.34L95.61 283.93L96.38 283.8L95.97 284.47L96.33 285.16L95.57 284.97L95.03 285.53L94.97 284.75ZM94.86 275.12L95.59 274.86L95.74 274.1L96.22 274.72L96.99 274.63L96.55 275.27L96.87 275.98L96.12 275.76L95.55 276.28L95.53 275.5ZM95.91 265.88L96.66 265.66L96.85 264.91L97.29 265.55L98.07 265.5L97.6 266.12L97.88 266.84L97.15 266.58L96.55 267.07L96.57 266.3ZM106.44 225.47L107.22 225.42L107.58 224.73L107.86 225.46L108.63 225.59L108.03 226.08L108.14 226.85L107.49 226.43L106.79 226.77L106.98 226.02ZM108.18 221.15L108.96 221.13L109.34 220.45L109.6 221.18L110.36 221.33L109.75 221.81L109.84 222.58L109.2 222.14L108.49 222.47L108.71 221.72Z"/>
<path fill="#7fc79a" d="M118.5 200.33L120.49 200.33L119.5 202.06ZM156.85 153.95L158.73 154.6L157.23 155.91ZM179.27 137.39L181.03 138.32L179.34 139.38ZM230.36 115.46L231.75 116.88L229.82 117.38ZM369.27 135.88L369.23 137.87L367.53 136.84ZM373.22 138.33L373.13 140.32L371.45 139.25ZM388.35 149.14L388.06 151.11L386.5 149.87ZM423.41 186.17L422.58 187.98L421.43 186.35ZM451.98 249.34L450.53 250.71L450.07 248.77ZM455.33 267.63L453.74 268.84L453.49 266.87ZM455.87 272.25L454.26 273.42L454.05 271.44ZM435.87 375.76L433.88 375.84L434.81 374.08ZM431.32 383.88L429.33 383.85L430.35 382.14ZM399.34 423.59L397.43 423.01L398.89 421.65ZM385.12 435.57L383.28 434.8L384.87 433.59ZM230.89 466.88L230.35 464.96L232.28 465.45ZM226.4 465.68L225.91 463.75L227.83 464.29ZM217.52 462.93L217.12 460.98L219.01 461.61ZM183.73 447.51L183.74 445.52L185.46 446.53ZM171.97 440L172.14 438.01L173.78 439.15ZM168.19 437.29L168.41 435.31L170.01 436.49ZM157.27 428.61L157.64 426.66L159.15 427.95ZM147.05 419.12L147.57 417.2L148.98 418.61ZM140.66 412.37L141.27 410.47L142.61 411.95ZM137.59 408.87L138.26 406.99L139.55 408.5ZM131.74 401.64L132.5 399.8L133.71 401.38ZM126.26 394.13L127.11 392.33L128.24 393.97ZM121.17 386.34L122.12 384.59L123.16 386.28ZM114.31 374.2L115.38 372.52L116.3 374.29ZM112.23 370.03L113.35 368.39L114.22 370.18ZM108.4 361.56L109.6 359.97L110.37 361.81ZM106.65 357.25L107.89 355.7L108.62 357.55ZM103.48 348.51L104.8 347.02L105.43 348.91ZM95.99 316.87L97.56 315.64L97.84 317.61ZM98.38 252.15L100.28 251.55L99.85 253.49ZM99.44 247.62L101.35 247.07L100.87 249ZM101.9 238.65L103.84 238.2L103.26 240.11Z"/>
<g font-family="'Liberation Sans', Arial, sans-serif" font-size="5.3" fill="#383636" stroke="#383636" stroke-width="0.13" opacity="0.82">
<text transform="rotate(390.03 275.5 291.1)" x="91.9" y="291.1" dy="1.85" text-anchor="end">AtPAL1</text>
<text transform="rotate(391.5 275.5 291.1)" x="91.9" y="291.1" dy="1.85" text-anchor="end">MdPAL1</text>
<text transform="rotate(392.97 275.5 291.1)" x="91.9" y="291.1" dy="1.85" text-anchor="end">MdPAL2</text>
<text transform="rotate(394.44 275.5 291.1)" x="91.9" y="291.1" dy="1.85" text-anchor="end">MdPAL3</text>
<text transform="rotate(395.91 275.5 291.1)" x="91.9" y="291.1" dy="1.85" text-anchor="end">PbrPAL1</text>
<text transform="rotate(397.38 275.5 291.1)" x="91.9" y="291.1" dy="1.85" text-anchor="end">MdPAL4</text>
<text transform="rotate(398.85 275.5 291.1)" x="91.9" y="291.1" dy="1.85" text-anchor="end">MdPAL5</text>
<text transform="rotate(400.32 275.5 291.1)" x="91.9" y="291.1" dy="1.85" text-anchor="end">MdPAL6</text>
<text transform="rotate(401.79 275.5 291.1)" x="91.9" y="291.1" dy="1.85" text-anchor="end">PbrPAL2</text>
<text transform="rotate(403.26 275.5 291.1)" x="91.9" y="291.1" dy="1.85" text-anchor="end">PbrPAL3</text>
<text transform="rotate(404.73 275.5 291.1)" x="91.9" y="291.1" dy="1.85" text-anchor="end">Md4CL1</text>
<text transform="rotate(406.2 275.5 291.1)" x="91.9" y="291.1" dy="1.85" text-anchor="end">Md4CL2</text>
<text transform="rotate(407.67 275.5 291.1)" x="91.9" y="291.1" dy="1.85" text-anchor="end">Md4CL3</text>
<text transform="rotate(409.14 275.5 291.1)" x="91.9" y="291.1" dy="1.85" text-anchor="end">At4CL1</text>
<text transform="rotate(410.61 275.5 291.1)" x="91.9" y="291.1" dy="1.85" text-anchor="end">Md4CL4</text>
<text transform="rotate(412.08 275.5 291.1)" x="91.9" y="291.1" dy="1.85" text-anchor="end">Md4CL5</text>
<text transform="rotate(413.54 275.5 291.1)" x="91.9" y="291.1" dy="1.85" text-anchor="end">Pbr4CL1</text>
<text transform="rotate(415.01 275.5 291.1)" x="91.9" y="291.1" dy="1.85" text-anchor="end">Md4CL6</text>
<text transform="rotate(416.48 275.5 291.1)" x="91.9" y="291.1" dy="1.85" text-anchor="end">Pbr4CL2</text>
<text transform="rotate(417.95 275.5 291.1)" x="91.9" y="291.1" dy="1.85" text-anchor="end">At4CL2</text>
<text transform="rotate(419.42 275.5 291.1)" x="91.9" y="291.1" dy="1.85" text-anchor="end">Md4CL7</text>
<text transform="rotate(420.89 275.5 291.1)" x="91.9" y="291.1" dy="1.85" text-anchor="end">Md4CL8</text>
<text transform="rotate(422.36 275.5 291.1)" x="91.9" y="291.1" dy="1.85" text-anchor="end">Md4CL9</text>
<text transform="rotate(423.83 275.5 291.1)" x="91.9" y="291.1" dy="1.85" text-anchor="end">Pbr4CL3</text>
<text transform="rotate(425.3 275.5 291.1)" x="91.9" y="291.1" dy="1.85" text-anchor="end">Pbr4CL4</text>
<text transform="rotate(426.77 275.5 291.1)" x="91.9" y="291.1" dy="1.85" text-anchor="end">Md4CL10</text>
<text transform="rotate(428.24 275.5 291.1)" x="91.9" y="291.1" dy="1.85" text-anchor="end">Md4CL11</text>
<text transform="rotate(429.71 275.5 291.1)" x="91.9" y="291.1" dy="1.85" text-anchor="end">Pbr4CL5</text>
<text transform="rotate(431.18 275.5 291.1)" x="91.9" y="291.1" dy="1.85" text-anchor="end">Pbr4CL6</text>
<text transform="rotate(432.65 275.5 291.1)" x="91.9" y="291.1" dy="1.85" text-anchor="end">Pbr4CL7</text>
<text transform="rotate(434.12 275.5 291.1)" x="91.9" y="291.1" dy="1.85" text-anchor="end">Md4CL12</text>
<text transform="rotate(435.59 275.5 291.1)" x="91.9" y="291.1" dy="1.85" text-anchor="end">At4CL3</text>
<text transform="rotate(437.06 275.5 291.1)" x="91.9" y="291.1" dy="1.85" text-anchor="end">Pbr4CL8</text>
<text transform="rotate(438.52 275.5 291.1)" x="91.9" y="291.1" dy="1.85" text-anchor="end">Md4CL13</text>
<text transform="rotate(439.99 275.5 291.1)" x="91.9" y="291.1" dy="1.85" text-anchor="end">Md4CL14</text>
<text transform="rotate(441.46 275.5 291.1)" x="91.9" y="291.1" dy="1.85" text-anchor="end">Md4CL15</text>
<text transform="rotate(442.93 275.5 291.1)" x="91.9" y="291.1" dy="1.85" text-anchor="end">Md4CL16</text>
<text transform="rotate(444.4 275.5 291.1)" x="91.9" y="291.1" dy="1.85" text-anchor="end">Md4CL17</text>
<text transform="rotate(445.87 275.5 291.1)" x="91.9" y="291.1" dy="1.85" text-anchor="end">Md4CL18</text>
<text transform="rotate(447.34 275.5 291.1)" x="91.9" y="291.1" dy="1.85" text-anchor="end">Pbr4CL9</text>
<text transform="rotate(448.81 275.5 291.1)" x="91.9" y="291.1" dy="1.85" text-anchor="end">Pbr4CL10</text>
<text transform="rotate(-89.72 275.5 291.1)" x="459.1" y="291.1" dy="1.85">Pbr4CL11</text>
<text transform="rotate(-88.25 275.5 291.1)" x="459.1" y="291.1" dy="1.85">Md4CL19</text>
<text transform="rotate(-86.78 275.5 291.1)" x="459.1" y="291.1" dy="1.85">MdF3&#39;H1</text>
<text transform="rotate(-85.31 275.5 291.1)" x="459.1" y="291.1" dy="1.85">MdF3&#39;H2</text>
<text transform="rotate(-83.84 275.5 291.1)" x="459.1" y="291.1" dy="1.85">MdF3&#39;H3</text>
<text transform="rotate(-82.37 275.5 291.1)" x="459.1" y="291.1" dy="1.85">PbrF3&#39;H1</text>
<text transform="rotate(-80.9 275.5 291.1)" x="459.1" y="291.1" dy="1.85">PbrF3&#39;H2</text>
<text transform="rotate(-79.43 275.5 291.1)" x="459.1" y="291.1" dy="1.85">MdF3&#39;H4</text>
<text transform="rotate(-77.97 275.5 291.1)" x="459.1" y="291.1" dy="1.85">MdF3&#39;H5</text>
<text transform="rotate(-76.5 275.5 291.1)" x="459.1" y="291.1" dy="1.85">PbrF3&#39;H3</text>
<text transform="rotate(-75.03 275.5 291.1)" x="459.1" y="291.1" dy="1.85">PbrF3&#39;H4</text>
<text transform="rotate(-73.56 275.5 291.1)" x="459.1" y="291.1" dy="1.85">MdF3&#39;H6</text>
<text transform="rotate(-72.09 275.5 291.1)" x="459.1" y="291.1" dy="1.85">MdF3&#39;H7</text>
<text transform="rotate(-70.62 275.5 291.1)" x="459.1" y="291.1" dy="1.85">MdF3&#39;H8</text>
<text transform="rotate(-69.15 275.5 291.1)" x="459.1" y="291.1" dy="1.85">MdF3&#39;H9</text>
<text transform="rotate(-67.68 275.5 291.1)" x="459.1" y="291.1" dy="1.85">MdF3&#39;H10</text>
<text transform="rotate(-66.21 275.5 291.1)" x="459.1" y="291.1" dy="1.85">MdF3&#39;H11</text>
<text transform="rotate(-64.74 275.5 291.1)" x="459.1" y="291.1" dy="1.85">MdF3&#39;H12</text>
<text transform="rotate(-63.27 275.5 291.1)" x="459.1" y="291.1" dy="1.85">MdF3&#39;H13</text>
<text transform="rotate(-61.8 275.5 291.1)" x="459.1" y="291.1" dy="1.85">PbrF3&#39;H5</text>
<text transform="rotate(-60.33 275.5 291.1)" x="459.1" y="291.1" dy="1.85">PbrF3&#39;H6</text>
<text transform="rotate(-58.86 275.5 291.1)" x="459.1" y="291.1" dy="1.85">AtF3&#39;H1</text>
<text transform="rotate(-57.39 275.5 291.1)" x="459.1" y="291.1" dy="1.85">AtC4H1</text>
<text transform="rotate(-55.92 275.5 291.1)" x="459.1" y="291.1" dy="1.85">PbrC4H1</text>
<text transform="rotate(-54.46 275.5 291.1)" x="459.1" y="291.1" dy="1.85">MdC4H1</text>
<text transform="rotate(-52.99 275.5 291.1)" x="459.1" y="291.1" dy="1.85">PbrC4H2</text>
<text transform="rotate(-51.52 275.5 291.1)" x="459.1" y="291.1" dy="1.85">AtC4H2</text>
<text transform="rotate(-50.05 275.5 291.1)" x="459.1" y="291.1" dy="1.85">MdC4H2</text>
<text transform="rotate(-48.58 275.5 291.1)" x="459.1" y="291.1" dy="1.85">PbrC4H3</text>
<text transform="rotate(-47.11 275.5 291.1)" x="459.1" y="291.1" dy="1.85">PbrC4H4</text>
<text transform="rotate(-45.64 275.5 291.1)" x="459.1" y="291.1" dy="1.85">MdC4H3</text>
<text transform="rotate(-44.17 275.5 291.1)" x="459.1" y="291.1" dy="1.85">MdC4H4</text>
<text transform="rotate(-42.7 275.5 291.1)" x="459.1" y="291.1" dy="1.85">PbrCHI1</text>
<text transform="rotate(-41.23 275.5 291.1)" x="459.1" y="291.1" dy="1.85">PbrCHI2</text>
<text transform="rotate(-39.76 275.5 291.1)" x="459.1" y="291.1" dy="1.85">MdCHI1</text>
<text transform="rotate(-38.29 275.5 291.1)" x="459.1" y="291.1" dy="1.85">MdCHI2</text>
<text transform="rotate(-36.82 275.5 291.1)" x="459.1" y="291.1" dy="1.85">PbrCHI3</text>
<text transform="rotate(-35.35 275.5 291.1)" x="459.1" y="291.1" dy="1.85">AtCHI1</text>
<text transform="rotate(-33.88 275.5 291.1)" x="459.1" y="291.1" dy="1.85">MdCHI3</text>
<text transform="rotate(-32.41 275.5 291.1)" x="459.1" y="291.1" dy="1.85">PbrCHI4</text>
<text transform="rotate(-30.94 275.5 291.1)" x="459.1" y="291.1" dy="1.85">MdCHI4</text>
<text transform="rotate(-29.48 275.5 291.1)" x="459.1" y="291.1" dy="1.85">MdCHI5</text>
<text transform="rotate(-28.01 275.5 291.1)" x="459.1" y="291.1" dy="1.85">MdCHI6</text>
<text transform="rotate(-26.54 275.5 291.1)" x="459.1" y="291.1" dy="1.85">MdCHI7</text>
<text transform="rotate(-25.07 275.5 291.1)" x="459.1" y="291.1" dy="1.85">PbrCHI5</text>
<text transform="rotate(-23.6 275.5 291.1)" x="459.1" y="291.1" dy="1.85">PbrCHI6</text>
<text transform="rotate(-22.13 275.5 291.1)" x="459.1" y="291.1" dy="1.85">MdCHI8</text>
<text transform="rotate(-20.66 275.5 291.1)" x="459.1" y="291.1" dy="1.85">PbrCHI7</text>
<text transform="rotate(-19.19 275.5 291.1)" x="459.1" y="291.1" dy="1.85">MdCHI9</text>
<text transform="rotate(-17.72 275.5 291.1)" x="459.1" y="291.1" dy="1.85">MdLAR1</text>
<text transform="rotate(-16.25 275.5 291.1)" x="459.1" y="291.1" dy="1.85">PbrLAR1</text>
<text transform="rotate(-14.78 275.5 291.1)" x="459.1" y="291.1" dy="1.85">PbrLAR2</text>
<text transform="rotate(-13.31 275.5 291.1)" x="459.1" y="291.1" dy="1.85">AtLAR1</text>
<text transform="rotate(-11.84 275.5 291.1)" x="459.1" y="291.1" dy="1.85">MdLAR2</text>
<text transform="rotate(-10.37 275.5 291.1)" x="459.1" y="291.1" dy="1.85">MdDFR1</text>
<text transform="rotate(-8.9 275.5 291.1)" x="459.1" y="291.1" dy="1.85">PbrDFR1</text>
<text transform="rotate(-7.43 275.5 291.1)" x="459.1" y="291.1" dy="1.85">AtDFR1</text>
<text transform="rotate(-5.97 275.5 291.1)" x="459.1" y="291.1" dy="1.85">AtDFR2</text>
<text transform="rotate(-4.5 275.5 291.1)" x="459.1" y="291.1" dy="1.85">MdDFR2</text>
<text transform="rotate(-3.03 275.5 291.1)" x="459.1" y="291.1" dy="1.85">MdDFR3</text>
<text transform="rotate(-1.56 275.5 291.1)" x="459.1" y="291.1" dy="1.85">PbrANR1</text>
<text transform="rotate(-0.09 275.5 291.1)" x="459.1" y="291.1" dy="1.85">MdANR1</text>
<text transform="rotate(1.38 275.5 291.1)" x="459.1" y="291.1" dy="1.85">MdANR2</text>
<text transform="rotate(2.85 275.5 291.1)" x="459.1" y="291.1" dy="1.85">PbrANR2</text>
<text transform="rotate(4.32 275.5 291.1)" x="459.1" y="291.1" dy="1.85">MdANR3</text>
<text transform="rotate(5.79 275.5 291.1)" x="459.1" y="291.1" dy="1.85">MdANR4</text>
<text transform="rotate(7.26 275.5 291.1)" x="459.1" y="291.1" dy="1.85">MdANR5</text>
<text transform="rotate(8.73 275.5 291.1)" x="459.1" y="291.1" dy="1.85">MdANR6</text>
<text transform="rotate(10.2 275.5 291.1)" x="459.1" y="291.1" dy="1.85">MdANR7</text>
<text transform="rotate(11.67 275.5 291.1)" x="459.1" y="291.1" dy="1.85">MdANR8</text>
<text transform="rotate(13.14 275.5 291.1)" x="459.1" y="291.1" dy="1.85">MdDFR4</text>
<text transform="rotate(14.61 275.5 291.1)" x="459.1" y="291.1" dy="1.85">PbrDFR2</text>
<text transform="rotate(16.08 275.5 291.1)" x="459.1" y="291.1" dy="1.85">PbrDFR3</text>
<text transform="rotate(17.54 275.5 291.1)" x="459.1" y="291.1" dy="1.85">PbrDFR4</text>
<text transform="rotate(19.01 275.5 291.1)" x="459.1" y="291.1" dy="1.85">MdDFR5</text>
<text transform="rotate(20.48 275.5 291.1)" x="459.1" y="291.1" dy="1.85">MdDFR6</text>
<text transform="rotate(21.95 275.5 291.1)" x="459.1" y="291.1" dy="1.85">PbrDFR5</text>
<text transform="rotate(23.42 275.5 291.1)" x="459.1" y="291.1" dy="1.85">PbrDFR6</text>
<text transform="rotate(24.89 275.5 291.1)" x="459.1" y="291.1" dy="1.85">PbrDFR7</text>
<text transform="rotate(26.36 275.5 291.1)" x="459.1" y="291.1" dy="1.85">MdDFR7</text>
<text transform="rotate(27.83 275.5 291.1)" x="459.1" y="291.1" dy="1.85">AtDFR3</text>
<text transform="rotate(29.3 275.5 291.1)" x="459.1" y="291.1" dy="1.85">MdDFR8</text>
<text transform="rotate(30.77 275.5 291.1)" x="459.1" y="291.1" dy="1.85">AtDFR4</text>
<text transform="rotate(32.24 275.5 291.1)" x="459.1" y="291.1" dy="1.85">PbrDFR8</text>
<text transform="rotate(33.71 275.5 291.1)" x="459.1" y="291.1" dy="1.85">PbrDFR9</text>
<text transform="rotate(35.18 275.5 291.1)" x="459.1" y="291.1" dy="1.85">PbrDFR10</text>
<text transform="rotate(36.65 275.5 291.1)" x="459.1" y="291.1" dy="1.85">PbrDFR11</text>
<text transform="rotate(38.12 275.5 291.1)" x="459.1" y="291.1" dy="1.85">MdDFR9</text>
<text transform="rotate(39.59 275.5 291.1)" x="459.1" y="291.1" dy="1.85">PbrUFGT1</text>
<text transform="rotate(41.06 275.5 291.1)" x="459.1" y="291.1" dy="1.85">PbrUFGT2</text>
<text transform="rotate(42.52 275.5 291.1)" x="459.1" y="291.1" dy="1.85">MdUFGT1</text>
<text transform="rotate(43.99 275.5 291.1)" x="459.1" y="291.1" dy="1.85">MdUFGT2</text>
<text transform="rotate(45.46 275.5 291.1)" x="459.1" y="291.1" dy="1.85">PbrUFGT3</text>
<text transform="rotate(46.93 275.5 291.1)" x="459.1" y="291.1" dy="1.85">AtUFGT1</text>
<text transform="rotate(48.4 275.5 291.1)" x="459.1" y="291.1" dy="1.85">PbrUFGT4</text>
<text transform="rotate(49.87 275.5 291.1)" x="459.1" y="291.1" dy="1.85">MdUFGT3</text>
<text transform="rotate(51.34 275.5 291.1)" x="459.1" y="291.1" dy="1.85">MdUFGT4</text>
<text transform="rotate(52.81 275.5 291.1)" x="459.1" y="291.1" dy="1.85">AtUFGT2</text>
<text transform="rotate(54.28 275.5 291.1)" x="459.1" y="291.1" dy="1.85">MdUFGT5</text>
<text transform="rotate(55.75 275.5 291.1)" x="459.1" y="291.1" dy="1.85">MdUFGT6</text>
<text transform="rotate(57.22 275.5 291.1)" x="459.1" y="291.1" dy="1.85">MdUFGT7</text>
<text transform="rotate(58.69 275.5 291.1)" x="459.1" y="291.1" dy="1.85">MdUFGT8</text>
<text transform="rotate(60.16 275.5 291.1)" x="459.1" y="291.1" dy="1.85">MdUFGT9</text>
<text transform="rotate(61.63 275.5 291.1)" x="459.1" y="291.1" dy="1.85">PbrUFGT5</text>
<text transform="rotate(63.1 275.5 291.1)" x="459.1" y="291.1" dy="1.85">MdUFGT10</text>
<text transform="rotate(64.57 275.5 291.1)" x="459.1" y="291.1" dy="1.85">MdUFGT11</text>
<text transform="rotate(66.03 275.5 291.1)" x="459.1" y="291.1" dy="1.85">PbrUFGT6</text>
<text transform="rotate(67.5 275.5 291.1)" x="459.1" y="291.1" dy="1.85">MdUFGT12</text>
<text transform="rotate(68.97 275.5 291.1)" x="459.1" y="291.1" dy="1.85">MdUFGT13</text>
<text transform="rotate(70.44 275.5 291.1)" x="459.1" y="291.1" dy="1.85">PbrUFGT7</text>
<text transform="rotate(71.91 275.5 291.1)" x="459.1" y="291.1" dy="1.85">PbrUFGT8</text>
<text transform="rotate(73.38 275.5 291.1)" x="459.1" y="291.1" dy="1.85">MdUFGT14</text>
<text transform="rotate(74.85 275.5 291.1)" x="459.1" y="291.1" dy="1.85">PbrUFGT9</text>
<text transform="rotate(76.32 275.5 291.1)" x="459.1" y="291.1" dy="1.85">PbrUFGT10</text>
<text transform="rotate(77.79 275.5 291.1)" x="459.1" y="291.1" dy="1.85">PbrCHS1</text>
<text transform="rotate(79.26 275.5 291.1)" x="459.1" y="291.1" dy="1.85">MdCHS1</text>
<text transform="rotate(80.73 275.5 291.1)" x="459.1" y="291.1" dy="1.85">PbrCHS2</text>
<text transform="rotate(82.2 275.5 291.1)" x="459.1" y="291.1" dy="1.85">MdCHS2</text>
<text transform="rotate(83.67 275.5 291.1)" x="459.1" y="291.1" dy="1.85">PbrCHS3</text>
<text transform="rotate(85.14 275.5 291.1)" x="459.1" y="291.1" dy="1.85">PbrCHS4</text>
<text transform="rotate(86.61 275.5 291.1)" x="459.1" y="291.1" dy="1.85">MdCHS3</text>
<text transform="rotate(88.08 275.5 291.1)" x="459.1" y="291.1" dy="1.85">PbrCHS5</text>
<text transform="rotate(89.54 275.5 291.1)" x="459.1" y="291.1" dy="1.85">MdCHS4</text>
<text transform="rotate(271.01 275.5 291.1)" x="91.9" y="291.1" dy="1.85" text-anchor="end">PbrCHS6</text>
<text transform="rotate(272.48 275.5 291.1)" x="91.9" y="291.1" dy="1.85" text-anchor="end">PbrCHS7</text>
<text transform="rotate(273.95 275.5 291.1)" x="91.9" y="291.1" dy="1.85" text-anchor="end">PbrCHS8</text>
<text transform="rotate(275.42 275.5 291.1)" x="91.9" y="291.1" dy="1.85" text-anchor="end">MdCHS5</text>
<text transform="rotate(276.89 275.5 291.1)" x="91.9" y="291.1" dy="1.85" text-anchor="end">MdCHS6</text>
<text transform="rotate(278.36 275.5 291.1)" x="91.9" y="291.1" dy="1.85" text-anchor="end">MdCHS7</text>
<text transform="rotate(279.83 275.5 291.1)" x="91.9" y="291.1" dy="1.85" text-anchor="end">PbrCHS9</text>
<text transform="rotate(281.3 275.5 291.1)" x="91.9" y="291.1" dy="1.85" text-anchor="end">MdCHS8</text>
<text transform="rotate(282.77 275.5 291.1)" x="91.9" y="291.1" dy="1.85" text-anchor="end">PbrCHS10</text>
<text transform="rotate(284.24 275.5 291.1)" x="91.9" y="291.1" dy="1.85" text-anchor="end">AtCHS1</text>
<text transform="rotate(285.71 275.5 291.1)" x="91.9" y="291.1" dy="1.85" text-anchor="end">AtCHS2</text>
<text transform="rotate(287.18 275.5 291.1)" x="91.9" y="291.1" dy="1.85" text-anchor="end">MdCHS9</text>
<text transform="rotate(288.65 275.5 291.1)" x="91.9" y="291.1" dy="1.85" text-anchor="end">AtCHS3</text>
<text transform="rotate(290.12 275.5 291.1)" x="91.9" y="291.1" dy="1.85" text-anchor="end">MdCHS10</text>
<text transform="rotate(291.59 275.5 291.1)" x="91.9" y="291.1" dy="1.85" text-anchor="end">MdCHS11</text>
<text transform="rotate(293.06 275.5 291.1)" x="91.9" y="291.1" dy="1.85" text-anchor="end">MdCHS12</text>
<text transform="rotate(294.52 275.5 291.1)" x="91.9" y="291.1" dy="1.85" text-anchor="end">MdCHS13</text>
<text transform="rotate(295.99 275.5 291.1)" x="91.9" y="291.1" dy="1.85" text-anchor="end">MdCHS14</text>
<text transform="rotate(297.46 275.5 291.1)" x="91.9" y="291.1" dy="1.85" text-anchor="end">MdCHS15</text>
<text transform="rotate(298.93 275.5 291.1)" x="91.9" y="291.1" dy="1.85" text-anchor="end">MdFLS1</text>
<text transform="rotate(300.4 275.5 291.1)" x="91.9" y="291.1" dy="1.85" text-anchor="end">AtFLS1</text>
<text transform="rotate(301.87 275.5 291.1)" x="91.9" y="291.1" dy="1.85" text-anchor="end">MdFLS2</text>
<text transform="rotate(303.34 275.5 291.1)" x="91.9" y="291.1" dy="1.85" text-anchor="end">MdFLS3</text>
<text transform="rotate(304.81 275.5 291.1)" x="91.9" y="291.1" dy="1.85" text-anchor="end">AtFLS2</text>
<text transform="rotate(306.28 275.5 291.1)" x="91.9" y="291.1" dy="1.85" text-anchor="end">AtFLS3</text>
<text transform="rotate(307.75 275.5 291.1)" x="91.9" y="291.1" dy="1.85" text-anchor="end">MdFLS4</text>
<text transform="rotate(309.22 275.5 291.1)" x="91.9" y="291.1" dy="1.85" text-anchor="end">MdFLS5</text>
<text transform="rotate(310.69 275.5 291.1)" x="91.9" y="291.1" dy="1.85" text-anchor="end">AtFLS4</text>
<text transform="rotate(312.16 275.5 291.1)" x="91.9" y="291.1" dy="1.85" text-anchor="end">MdFLS6</text>
<text transform="rotate(313.63 275.5 291.1)" x="91.9" y="291.1" dy="1.85" text-anchor="end">MdFLS7</text>
<text transform="rotate(315.1 275.5 291.1)" x="91.9" y="291.1" dy="1.85" text-anchor="end">AtFLS5</text>
<text transform="rotate(316.57 275.5 291.1)" x="91.9" y="291.1" dy="1.85" text-anchor="end">MdFLS8</text>
<text transform="rotate(318.03 275.5 291.1)" x="91.9" y="291.1" dy="1.85" text-anchor="end">AtFLS6</text>
<text transform="rotate(319.5 275.5 291.1)" x="91.9" y="291.1" dy="1.85" text-anchor="end">AtFLS7</text>
<text transform="rotate(320.97 275.5 291.1)" x="91.9" y="291.1" dy="1.85" text-anchor="end">MdFLS9</text>
<text transform="rotate(322.44 275.5 291.1)" x="91.9" y="291.1" dy="1.85" text-anchor="end">AtFLS8</text>
<text transform="rotate(323.91 275.5 291.1)" x="91.9" y="291.1" dy="1.85" text-anchor="end">MdFLS10</text>
<text transform="rotate(325.38 275.5 291.1)" x="91.9" y="291.1" dy="1.85" text-anchor="end">AtFLS9</text>
<text transform="rotate(326.85 275.5 291.1)" x="91.9" y="291.1" dy="1.85" text-anchor="end">MdANS1</text>
<text transform="rotate(328.32 275.5 291.1)" x="91.9" y="291.1" dy="1.85" text-anchor="end">AtANS1</text>
<text transform="rotate(329.79 275.5 291.1)" x="91.9" y="291.1" dy="1.85" text-anchor="end">MdANS2</text>
<text transform="rotate(331.26 275.5 291.1)" x="91.9" y="291.1" dy="1.85" text-anchor="end">MdANS3</text>
<text transform="rotate(332.73 275.5 291.1)" x="91.9" y="291.1" dy="1.85" text-anchor="end">AtANS2</text>
<text transform="rotate(334.2 275.5 291.1)" x="91.9" y="291.1" dy="1.85" text-anchor="end">AtANS3</text>
<text transform="rotate(335.67 275.5 291.1)" x="91.9" y="291.1" dy="1.85" text-anchor="end">MdANS4</text>
<text transform="rotate(337.14 275.5 291.1)" x="91.9" y="291.1" dy="1.85" text-anchor="end">AtANS4</text>
<text transform="rotate(338.61 275.5 291.1)" x="91.9" y="291.1" dy="1.85" text-anchor="end">AtANS5</text>
<text transform="rotate(340.08 275.5 291.1)" x="91.9" y="291.1" dy="1.85" text-anchor="end">MdANS5</text>
<text transform="rotate(341.54 275.5 291.1)" x="91.9" y="291.1" dy="1.85" text-anchor="end">AtANS6</text>
<text transform="rotate(343.01 275.5 291.1)" x="91.9" y="291.1" dy="1.85" text-anchor="end">MdANS6</text>
<text transform="rotate(344.48 275.5 291.1)" x="91.9" y="291.1" dy="1.85" text-anchor="end">MdF3H1</text>
<text transform="rotate(345.95 275.5 291.1)" x="91.9" y="291.1" dy="1.85" text-anchor="end">MdF3H2</text>
<text transform="rotate(347.42 275.5 291.1)" x="91.9" y="291.1" dy="1.85" text-anchor="end">MdF3H3</text>
<text transform="rotate(348.89 275.5 291.1)" x="91.9" y="291.1" dy="1.85" text-anchor="end">PbrF3H1</text>
<text transform="rotate(350.36 275.5 291.1)" x="91.9" y="291.1" dy="1.85" text-anchor="end">MdF3H4</text>
<text transform="rotate(351.83 275.5 291.1)" x="91.9" y="291.1" dy="1.85" text-anchor="end">AtF3H1</text>
<text transform="rotate(353.3 275.5 291.1)" x="91.9" y="291.1" dy="1.85" text-anchor="end">PbrF3H2</text>
<text transform="rotate(354.77 275.5 291.1)" x="91.9" y="291.1" dy="1.85" text-anchor="end">MdF3H5</text>
<text transform="rotate(356.24 275.5 291.1)" x="91.9" y="291.1" dy="1.85" text-anchor="end">MdF3H6</text>
<text transform="rotate(357.71 275.5 291.1)" x="91.9" y="291.1" dy="1.85" text-anchor="end">MdF3H7</text>
<text transform="rotate(359.18 275.5 291.1)" x="91.9" y="291.1" dy="1.85" text-anchor="end">PbrF3H3</text>
<text transform="rotate(360.65 275.5 291.1)" x="91.9" y="291.1" dy="1.85" text-anchor="end">PbrF3H4</text>
<text transform="rotate(362.12 275.5 291.1)" x="91.9" y="291.1" dy="1.85" text-anchor="end">PbrF3H5</text>
<text transform="rotate(363.59 275.5 291.1)" x="91.9" y="291.1" dy="1.85" text-anchor="end">MdF3H8</text>
<text transform="rotate(365.06 275.5 291.1)" x="91.9" y="291.1" dy="1.85" text-anchor="end">PbrF3H6</text>
<text transform="rotate(366.52 275.5 291.1)" x="91.9" y="291.1" dy="1.85" text-anchor="end">MdF3H9</text>
<text transform="rotate(367.99 275.5 291.1)" x="91.9" y="291.1" dy="1.85" text-anchor="end">PbrF3H7</text>
<text transform="rotate(369.46 275.5 291.1)" x="91.9" y="291.1" dy="1.85" text-anchor="end">MdF3H10</text>
<text transform="rotate(370.93 275.5 291.1)" x="91.9" y="291.1" dy="1.85" text-anchor="end">MdF3H11</text>
<text transform="rotate(372.4 275.5 291.1)" x="91.9" y="291.1" dy="1.85" text-anchor="end">AtF3H2</text>
<text transform="rotate(373.87 275.5 291.1)" x="91.9" y="291.1" dy="1.85" text-anchor="end">AtLDOX1</text>
<text transform="rotate(375.34 275.5 291.1)" x="91.9" y="291.1" dy="1.85" text-anchor="end">MdLDOX1</text>
<text transform="rotate(376.81 275.5 291.1)" x="91.9" y="291.1" dy="1.85" text-anchor="end">AtLDOX2</text>
<text transform="rotate(378.28 275.5 291.1)" x="91.9" y="291.1" dy="1.85" text-anchor="end">MdLDOX2</text>
<text transform="rotate(379.75 275.5 291.1)" x="91.9" y="291.1" dy="1.85" text-anchor="end">MdLDOX3</text>
<text transform="rotate(381.22 275.5 291.1)" x="91.9" y="291.1" dy="1.85" text-anchor="end">PbrLDOX1</text>
<text transform="rotate(382.69 275.5 291.1)" x="91.9" y="291.1" dy="1.85" text-anchor="end">PbrLDOX2</text>
<text transform="rotate(384.16 275.5 291.1)" x="91.9" y="291.1" dy="1.85" text-anchor="end">MdANS7</text>
<text transform="rotate(385.63 275.5 291.1)" x="91.9" y="291.1" dy="1.85" text-anchor="end">MdANS8</text>
<text transform="rotate(387.1 275.5 291.1)" x="91.9" y="291.1" dy="1.85" text-anchor="end">MdANS9</text>
<text transform="rotate(388.57 275.5 291.1)" x="91.9" y="291.1" dy="1.85" text-anchor="end">MdANS10</text>
</g>
<g font-family="'Liberation Sans', Arial, sans-serif" fill="#1a1a1a">
<text x="488.2" y="29.6" font-size="10.4">bootstrap</text>
<path d="M485 35.3H535.6" stroke="#9a9a9a" stroke-width="0.8" fill="none"/>
<text x="509.9" y="50.6" font-size="9.9" letter-spacing="-0.45">12</text>
<path fill="#f9b6ba" d="M498.65 47.1L500.15 46.43L500.15 47.77Z"/>
<text x="509.9" y="71.3" font-size="9.9" letter-spacing="-0.45">34</text>
<path fill="#f9b6ba" d="M498.2 67.8L500.6 66.72L500.6 68.88Z"/>
<text x="509.9" y="92" font-size="9.9" letter-spacing="-0.45">56</text>
<path fill="#f9b6ba" d="M497.75 88.5L501.05 87.02L501.05 89.98Z"/>
<text x="509.9" y="112.7" font-size="9.9" letter-spacing="-0.45">78</text>
<path fill="#f9b6ba" d="M497.3 109.2L501.5 107.31L501.5 111.09Z"/>
<text x="509.9" y="133.4" font-size="9.9" letter-spacing="-0.45">100</text>
<path fill="#f9b6ba" d="M496.8 129.9L502 127.56L502 132.24Z"/>
</g>
<g font-family="'Liberation Sans', Arial, sans-serif" font-size="10" font-style="italic" fill="#2a2a2a">
<path d="M41 587.5L48 601.5H34Z" fill="#a9d6b8"/>
<text x="55.4" y="599.2">Arabidopsis thaliana</text>
<path d="M228.4 589L230.57 592.91L234.96 593.77L231.92 597.04L232.46 601.48L228.4 599.6L224.34 601.48L224.88 597.04L221.84 593.77L226.23 592.91Z" fill="#86c5e5" stroke="#86c5e5" stroke-width="1" stroke-linejoin="round"/>
<text x="243" y="599.7">Pyrus bretschneideri</text>
<circle cx="425.4" cy="598.4" r="6.9" fill="#f1999d"/>
<text x="440.6" y="601.8">Malus domestica</text>
</g>
<g font-family="'Liberation Sans', Arial, sans-serif" font-size="10.3" letter-spacing="-0.05" fill="#2a2a2a">
<rect x="34" y="630.2" width="13.4" height="13.4" fill="#f7b050"/>
<text x="54.2" y="640.1">PAL</text>
<rect x="96.3" y="630.2" width="13.4" height="13.4" fill="#66998f"/>
<text x="116.5" y="640.1">4CL</text>
<rect x="156" y="630.2" width="13.4" height="13.4" fill="#f8c1bb"/>
<text x="176.2" y="640.1">P450</text>
<rect x="220.9" y="630.2" width="13.4" height="13.4" fill="#95b769"/>
<text x="241.1" y="640.1">CHI</text>
<rect x="282" y="630.2" width="13.4" height="13.4" fill="#99d5ef"/>
<text x="302.2" y="640.1">SDR</text>
<rect x="341.3" y="630.2" width="13.4" height="13.4" fill="#f8999e"/>
<text x="361.5" y="640.1">UFGT</text>
<rect x="405.8" y="630.2" width="13.4" height="13.4" fill="#f9bd8f"/>
<text x="426" y="640.1">CHS</text>
<rect x="464" y="630.2" width="13.4" height="13.4" fill="#0ba3ab"/>
<text x="484.2" y="640.1">2OGD</text>
</g>
</svg>
</body></html>
